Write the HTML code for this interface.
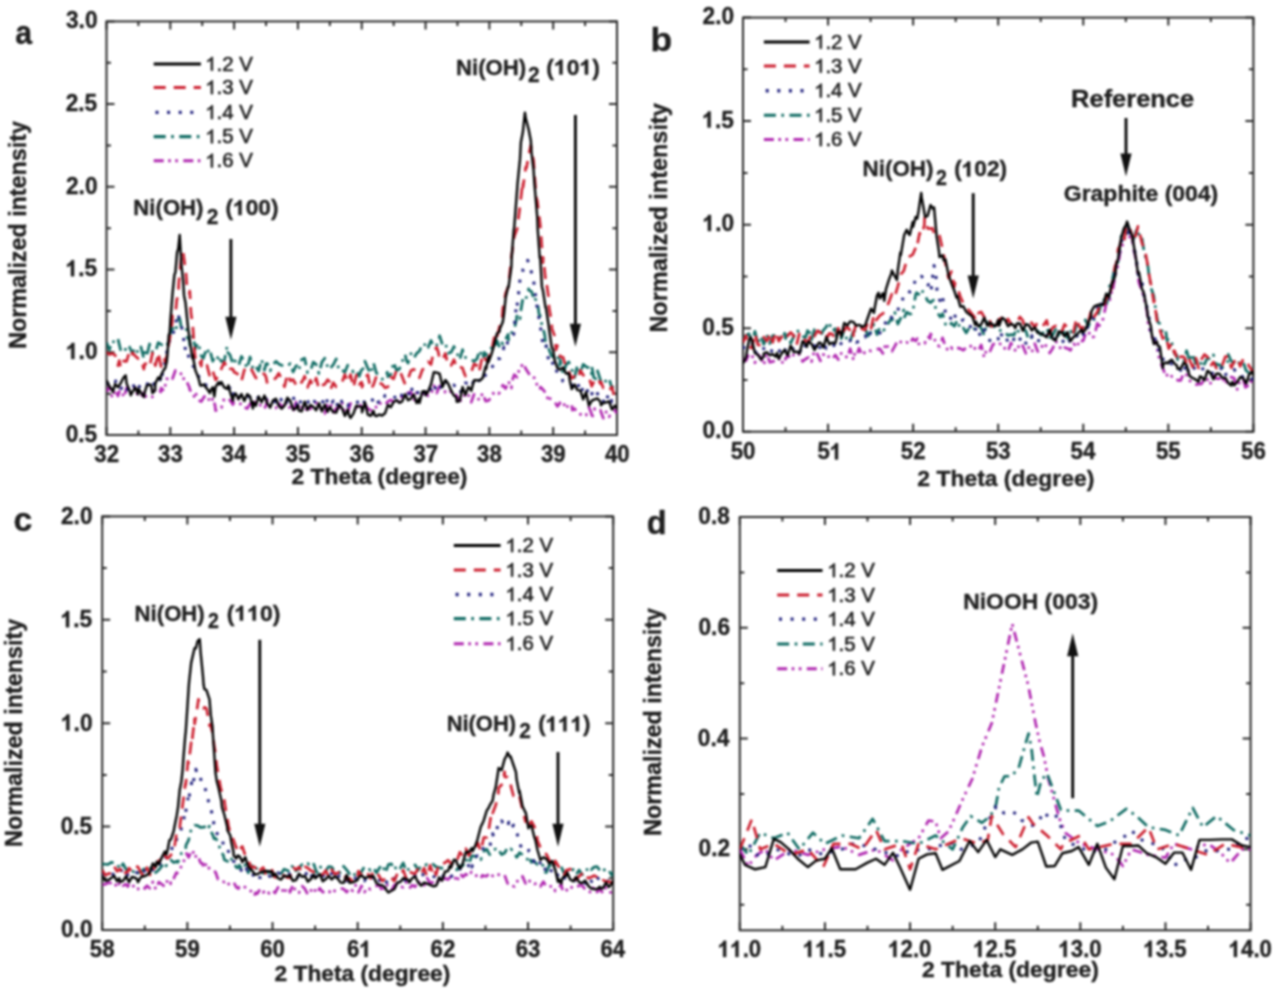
<!DOCTYPE html>
<html><head><meta charset="utf-8"><style>
html,body{margin:0;padding:0;background:#fff;overflow:hidden}
svg{display:block;font-family:"Liberation Sans",sans-serif;filter:blur(1px)}
text{font-kerning:none;font-variant-ligatures:none}
</style></head><body>
<svg width="1280" height="993" viewBox="0 0 1280 993" font-family="Liberation Sans, sans-serif">
<rect width="1280" height="993" fill="#fff"/>
<clipPath id="ca"><rect x="106.5" y="21.4" width="510.5" height="413.6"/></clipPath>
<path d="M106.50,435v-8M106.50,21.4v8M170.31,435v-8M170.31,21.4v8M234.12,435v-8M234.12,21.4v8M297.94,435v-8M297.94,21.4v8M361.75,435v-8M361.75,21.4v8M425.56,435v-8M425.56,21.4v8M489.38,435v-8M489.38,21.4v8M553.19,435v-8M553.19,21.4v8M617.00,435v-8M617.00,21.4v8M138.41,435v-4.5M138.41,21.4v4.5M202.22,435v-4.5M202.22,21.4v4.5M266.03,435v-4.5M266.03,21.4v4.5M329.84,435v-4.5M329.84,21.4v4.5M393.66,435v-4.5M393.66,21.4v4.5M457.47,435v-4.5M457.47,21.4v4.5M521.28,435v-4.5M521.28,21.4v4.5M585.09,435v-4.5M585.09,21.4v4.5M106.5,435.00h8M617,435.00h-8M106.5,352.28h8M617,352.28h-8M106.5,269.56h8M617,269.56h-8M106.5,186.84h8M617,186.84h-8M106.5,104.12h8M617,104.12h-8M106.5,21.40h8M617,21.40h-8M106.5,393.64h4.5M617,393.64h-4.5M106.5,310.92h4.5M617,310.92h-4.5M106.5,228.20h4.5M617,228.20h-4.5M106.5,145.48h4.5M617,145.48h-4.5M106.5,62.76h4.5M617,62.76h-4.5" stroke="#2a2a2a" stroke-width="2" fill="none"/>
<rect x="106.5" y="21.4" width="510.50" height="413.60" stroke="#2a2a2a" stroke-width="2" fill="none"/>
<path d="M106.50,391.99 L109.37,386.60 L112.24,397.64 L115.11,389.25 L117.99,395.95 L120.86,386.35 L123.73,397.58 L125.64,391.99 L126.60,387.76 L129.47,390.55 L132.34,389.01 L135.22,387.85 L138.09,397.15 L140.96,396.51 L143.83,392.72 L144.79,395.29 L146.70,397.44 L149.57,397.04 L152.44,396.85 L155.32,388.97 L158.19,388.18 L160.74,391.99 L161.06,388.10 L163.93,390.81 L166.80,378.74 L169.67,379.59 L171.59,377.10 L172.55,378.55 L175.42,370.48 L178.29,372.23 L181.16,373.89 L183.08,373.79 L184.03,381.14 L185.63,380.40 L186.90,382.03 L189.46,387.52 L189.78,389.76 L192.65,392.92 L194.56,397.45 L195.52,393.07 L198.39,398.17 L199.03,400.26 L201.26,401.65 L204.13,396.71 L207.00,395.56 L209.88,401.78 L211.79,401.91 L212.75,397.75 L214.98,405.22 L215.62,410.68 L218.49,408.78 L221.36,407.91 L224.23,398.55 L227.11,400.92 L229.98,400.09 L232.85,404.60 L234.12,401.91 L235.72,402.14 L238.59,397.89 L241.46,407.31 L244.33,407.42 L247.21,408.51 L250.08,403.93 L252.95,399.92 L255.82,403.53 L258.69,405.60 L261.56,404.73 L264.44,408.77 L266.03,405.22 L267.31,400.10 L270.18,407.13 L273.05,408.65 L275.92,407.92 L278.79,402.12 L281.67,408.14 L284.54,401.49 L287.41,408.23 L290.28,407.16 L293.15,411.56 L296.02,402.06 L297.94,406.88 L298.89,403.50 L301.77,407.37 L304.64,411.68 L307.51,407.46 L310.38,408.95 L313.25,403.73 L316.12,402.86 L319.00,405.17 L321.87,410.58 L324.74,413.58 L327.61,403.85 L329.84,408.53 L330.48,403.35 L333.35,412.30 L336.23,408.20 L339.10,408.27 L341.97,402.38 L344.84,413.04 L347.71,412.68 L350.58,403.47 L353.45,406.50 L356.33,407.59 L359.20,403.79 L361.75,406.88 L362.07,405.74 L364.94,404.15 L367.81,408.76 L370.68,410.29 L373.56,410.73 L376.43,406.52 L379.30,402.43 L382.17,405.09 L385.04,405.02 L387.91,401.43 L390.78,399.98 L393.66,401.91 L396.53,399.91 L399.40,402.31 L402.27,395.51 L405.14,394.86 L408.01,392.89 L410.89,392.01 L413.76,401.27 L416.63,392.81 L419.50,395.63 L422.37,394.27 L425.24,391.88 L425.56,391.99 L428.11,395.89 L430.99,394.42 L433.86,385.64 L436.73,392.98 L439.60,385.99 L442.47,388.39 L444.71,390.33 L445.34,392.70 L448.22,393.64 L451.09,391.32 L453.96,391.19 L456.83,396.37 L459.70,400.62 L462.57,400.30 L463.85,396.95 L465.45,392.96 L468.32,394.82 L471.19,402.35 L474.06,394.27 L476.93,397.61 L477.89,398.60 L479.80,400.05 L482.67,392.88 L485.55,401.04 L488.42,400.70 L491.29,397.16 L494.16,391.89 L497.03,393.40 L498.31,393.64 L499.90,392.44 L502.78,385.07 L505.65,388.53 L508.52,381.48 L511.39,388.07 L511.71,382.06 L514.26,374.65 L517.13,377.26 L520.00,366.81 L521.92,365.52 L522.88,362.84 L525.75,368.67 L528.62,373.29 L530.85,377.10 L531.49,377.18 L534.36,377.82 L537.23,385.23 L540.11,389.78 L540.42,387.02 L542.98,389.45 L545.85,393.35 L548.72,401.50 L550.00,398.60 L551.59,399.08 L554.46,401.30 L557.34,406.39 L559.57,403.57 L560.21,401.49 L563.08,402.16 L565.95,408.74 L568.82,404.13 L571.69,404.21 L572.33,410.18 L574.56,408.69 L577.44,412.13 L580.31,414.20 L583.18,416.34 L586.05,415.18 L588.92,407.27 L591.48,413.49 L591.79,418.58 L594.67,408.67 L597.54,411.21 L600.41,410.20 L603.28,418.13 L606.15,411.80 L609.02,416.91 L611.90,411.44 L614.77,410.09 L617.00,413.49" stroke="#b028b0" stroke-width="2.7" fill="none" stroke-linejoin="round" stroke-dasharray="10 4.5 2.6 4.5 2.6 5.4" clip-path="url(#ca)"/>
<path d="M106.50,342.35 L109.37,349.85 L112.24,340.99 L115.11,342.82 L117.99,339.04 L120.86,351.10 L123.73,352.35 L125.64,348.97 L126.60,345.26 L129.47,347.01 L132.34,353.39 L135.22,347.58 L138.09,352.83 L140.96,347.03 L143.83,358.43 L144.79,352.28 L146.70,356.20 L149.57,343.98 L152.44,351.98 L155.32,352.60 L158.19,342.61 L161.06,344.48 L163.93,345.66 L166.80,346.49 L169.67,334.89 L172.55,328.06 L173.50,329.12 L175.42,331.68 L178.29,319.16 L179.88,319.19 L181.16,327.08 L184.03,327.26 L186.27,327.46 L186.90,336.87 L189.46,340.04 L189.78,345.29 L192.65,335.77 L195.52,348.55 L195.84,347.32 L198.39,342.84 L201.26,356.07 L203.50,358.24 L204.13,355.71 L207.00,347.98 L208.60,352.28 L209.88,349.98 L212.75,361.29 L215.62,355.17 L218.17,358.24 L218.49,355.82 L221.36,361.52 L224.23,361.17 L227.11,346.48 L227.74,352.28 L229.98,354.95 L232.85,363.96 L234.12,360.55 L235.72,361.50 L238.59,365.68 L241.46,356.38 L244.33,361.60 L247.21,368.49 L250.08,356.94 L252.95,369.29 L255.82,366.43 L258.69,370.91 L261.56,359.42 L264.44,370.08 L266.03,363.86 L267.31,363.50 L270.18,370.81 L273.05,364.55 L275.92,361.31 L278.79,363.95 L281.67,365.41 L284.54,365.07 L287.41,366.01 L290.28,363.54 L293.15,371.97 L296.02,365.84 L297.94,365.52 L298.89,369.88 L301.77,359.47 L304.64,358.25 L307.51,372.69 L310.38,371.42 L313.25,362.15 L316.12,364.33 L319.00,373.47 L321.87,362.13 L324.74,358.17 L327.61,366.79 L329.84,365.52 L330.48,368.10 L333.35,364.73 L336.23,358.91 L339.10,370.39 L341.97,370.04 L344.84,372.22 L347.71,365.24 L350.58,368.17 L353.45,372.00 L356.33,370.12 L359.20,376.26 L361.75,368.82 L362.07,371.97 L364.94,361.25 L367.81,368.19 L370.68,373.58 L373.56,363.14 L376.43,373.07 L379.30,375.21 L382.17,379.16 L385.04,377.70 L387.27,372.13 L387.91,376.73 L390.78,374.48 L393.66,362.10 L396.53,370.43 L399.40,368.96 L402.27,361.34 L405.14,354.42 L406.42,360.55 L408.01,363.04 L410.89,353.52 L413.76,358.28 L416.63,353.36 L419.50,351.05 L422.37,343.58 L425.24,344.91 L425.56,348.97 L428.11,347.51 L430.99,340.51 L433.86,346.88 L436.73,345.10 L438.33,342.35 L439.60,335.74 L442.47,344.82 L445.34,343.29 L448.22,353.12 L451.09,352.28 L453.96,346.53 L456.83,352.65 L459.70,359.81 L462.57,349.57 L463.85,357.24 L465.45,357.37 L468.32,358.81 L471.19,359.38 L474.06,361.33 L476.93,359.02 L479.80,350.19 L482.67,358.61 L484.27,352.28 L485.55,355.60 L488.42,350.96 L491.29,347.84 L494.16,349.04 L497.03,340.83 L499.90,348.05 L502.14,342.85 L502.78,344.13 L505.65,339.15 L508.14,334.41 L508.52,339.86 L511.39,333.08 L514.26,329.11 L516.50,319.19 L517.13,314.32 L520.00,318.74 L520.64,311.75 L522.88,298.27 L523.58,297.68 L525.75,299.53 L528.62,288.87 L529.19,290.57 L531.49,291.46 L534.36,300.82 L534.87,299.17 L537.23,300.51 L539.15,314.56 L540.11,315.54 L541.89,324.82 L542.98,327.82 L544.89,335.74 L545.85,347.38 L546.81,344.01 L548.72,348.78 L551.59,355.94 L554.46,357.41 L557.34,354.58 L559.57,365.52 L560.21,359.74 L563.08,374.13 L565.95,365.02 L568.82,361.93 L571.69,369.53 L572.33,370.48 L574.56,377.54 L577.44,365.29 L580.31,373.08 L583.18,364.40 L586.05,366.65 L588.92,367.91 L591.48,373.79 L591.79,366.76 L594.67,381.97 L597.54,370.89 L600.41,379.91 L603.28,383.65 L606.15,380.54 L609.02,378.00 L611.90,388.60 L614.77,382.17 L617.00,382.06" stroke="#126c64" stroke-width="2.7" fill="none" stroke-linejoin="round" stroke-dasharray="12 5.5 2.6 5.5" clip-path="url(#ca)"/>
<path d="M106.50,382.06 L109.37,385.35 L112.24,380.91 L115.11,381.42 L117.99,380.00 L120.86,388.18 L123.73,388.16 L125.64,385.37 L126.60,389.45 L129.47,388.55 L132.34,382.66 L135.22,389.65 L138.09,385.01 L140.96,388.68 L143.83,387.75 L144.79,385.37 L146.70,385.37 L149.57,379.47 L152.44,380.94 L155.32,386.62 L158.19,382.41 L160.74,378.75 L161.06,381.81 L163.93,364.11 L165.85,362.21 L166.80,352.00 L167.76,348.97 L169.67,339.91 L172.55,331.40 L173.50,332.43 L175.42,324.03 L178.29,313.32 L178.80,317.04 L181.16,321.84 L181.80,327.46 L184.03,341.28 L184.35,340.04 L185.63,352.28 L186.90,350.63 L189.78,360.25 L192.65,365.52 L195.52,368.15 L198.39,375.94 L200.30,380.40 L201.26,381.79 L204.13,384.27 L207.00,385.23 L208.60,385.37 L209.88,387.86 L212.75,390.87 L215.62,383.49 L218.49,384.48 L221.36,383.05 L224.23,387.21 L227.11,389.54 L229.98,388.03 L232.85,395.88 L234.12,391.99 L235.72,390.27 L238.59,393.57 L241.46,397.25 L244.33,397.55 L247.21,394.44 L250.08,398.15 L252.95,396.36 L255.82,395.26 L258.69,398.29 L261.56,401.95 L264.44,398.38 L266.03,398.60 L267.31,401.80 L270.18,402.09 L273.05,402.87 L275.92,401.18 L278.79,404.87 L281.67,398.47 L284.54,395.27 L287.41,402.10 L290.28,398.58 L293.15,396.40 L296.02,407.00 L297.94,401.91 L298.89,406.11 L301.77,398.57 L304.64,398.34 L307.51,400.80 L310.38,406.50 L313.25,403.71 L316.12,398.59 L319.00,398.53 L321.87,399.64 L324.74,406.74 L327.61,399.35 L329.84,403.57 L330.48,404.98 L333.35,400.88 L336.23,407.44 L339.10,397.63 L341.97,401.74 L344.84,400.21 L347.71,405.98 L350.58,401.13 L353.45,401.41 L356.33,401.14 L359.20,403.67 L361.75,401.91 L362.07,399.21 L364.94,403.09 L367.81,403.02 L370.68,403.94 L373.56,397.33 L376.43,403.36 L379.30,401.45 L382.17,402.67 L385.04,395.42 L387.91,395.84 L390.78,395.39 L393.66,395.29 L396.53,400.04 L399.40,394.80 L402.27,395.33 L405.14,397.63 L408.01,398.07 L410.89,385.95 L413.76,395.51 L416.63,392.83 L419.50,392.61 L422.37,388.21 L425.24,393.64 L425.56,388.68 L428.11,388.58 L430.99,389.28 L433.86,383.37 L436.73,392.47 L439.60,388.16 L442.47,385.79 L444.71,385.37 L445.34,380.04 L448.22,385.78 L451.09,386.77 L453.96,385.00 L456.83,389.82 L459.70,393.38 L462.57,388.44 L463.85,388.68 L465.45,382.96 L468.32,383.21 L471.19,387.04 L474.06,380.37 L476.93,376.72 L479.80,381.82 L482.67,376.27 L482.99,377.10 L485.55,375.13 L488.42,372.32 L491.29,367.73 L494.16,364.60 L495.76,358.90 L497.03,358.84 L499.90,358.46 L502.78,350.28 L504.05,347.32 L505.65,349.95 L508.52,338.31 L511.39,336.27 L513.62,334.41 L514.26,331.72 L514.90,317.54 L517.13,301.85 L517.26,304.30 L518.73,292.06 L520.00,279.49 L522.88,273.36 L522.94,269.56 L525.75,264.27 L527.66,260.30 L528.62,262.68 L531.49,272.37 L534.04,283.62 L534.36,288.11 L535.64,296.36 L537.23,308.48 L540.11,324.23 L542.98,345.12 L543.30,342.85 L545.85,344.95 L547.44,353.11 L548.72,361.32 L550.00,360.55 L551.59,359.10 L554.46,370.25 L555.74,368.82 L557.34,372.69 L560.21,374.57 L563.08,381.55 L565.95,383.31 L568.82,383.48 L571.69,385.40 L572.33,385.37 L574.56,381.65 L577.44,381.17 L580.31,392.95 L583.18,388.09 L583.82,388.68 L586.05,393.87 L588.92,387.23 L591.79,393.96 L594.67,388.52 L597.54,393.71 L600.41,399.73 L603.28,402.29 L604.24,396.95 L606.15,400.11 L609.02,393.31 L611.90,402.00 L614.77,398.56 L617.00,398.60" stroke="#22227e" stroke-width="3.0" fill="none" stroke-linejoin="round" stroke-dasharray="3 8.6" clip-path="url(#ca)"/>
<path d="M106.50,352.28 L109.37,354.56 L112.24,353.40 L115.11,355.11 L117.99,365.64 L119.26,360.55 L120.86,368.02 L123.73,360.89 L126.60,361.44 L129.47,351.45 L132.02,355.59 L132.34,352.64 L135.22,355.98 L138.09,358.56 L140.96,358.71 L143.83,369.11 L144.79,363.86 L146.70,363.86 L149.57,366.97 L152.44,353.17 L155.32,365.70 L157.55,357.24 L158.19,352.38 L161.06,366.56 L163.93,358.29 L165.21,362.21 L166.80,356.37 L169.23,340.70 L169.67,339.57 L172.23,322.50 L172.55,315.25 L175.42,314.63 L176.69,300.33 L178.29,294.19 L178.80,282.63 L181.16,258.59 L183.08,251.53 L184.03,258.66 L186.01,273.86 L186.90,285.97 L189.33,293.71 L189.78,291.00 L190.99,313.57 L192.65,324.15 L194.56,352.28 L195.52,359.80 L198.39,357.97 L201.26,366.06 L201.58,360.39 L204.13,366.80 L207.00,365.41 L209.88,376.71 L212.43,374.45 L212.75,370.99 L215.62,379.86 L218.49,376.07 L221.36,368.82 L224.23,362.25 L227.11,367.76 L228.38,365.52 L229.98,368.70 L232.85,369.07 L234.12,372.13 L235.72,372.77 L238.59,374.74 L241.46,381.04 L244.33,369.98 L247.21,366.43 L250.08,366.73 L252.95,372.35 L255.82,377.88 L258.69,378.22 L261.56,373.26 L264.44,373.97 L266.03,377.10 L267.31,383.62 L270.18,381.91 L273.05,380.09 L275.92,377.93 L278.79,373.29 L281.67,378.72 L284.54,386.82 L287.41,373.98 L290.28,380.77 L293.15,379.59 L296.02,384.80 L297.94,380.40 L298.89,381.66 L301.77,382.45 L304.64,376.25 L307.51,387.48 L310.38,380.22 L313.25,386.53 L316.12,378.11 L319.00,389.16 L321.87,385.34 L324.74,384.37 L327.61,379.68 L329.84,382.06 L330.48,389.47 L333.35,382.73 L336.23,386.88 L339.10,385.67 L341.97,382.45 L344.84,374.47 L347.71,382.37 L350.58,374.52 L353.45,387.56 L356.33,375.04 L359.20,384.31 L361.75,382.06 L362.07,387.17 L364.94,377.62 L367.81,374.61 L370.68,389.29 L373.56,384.67 L376.43,376.06 L379.30,382.86 L382.17,384.22 L385.04,387.77 L387.91,386.96 L390.78,377.08 L393.66,378.75 L396.53,370.19 L399.40,369.39 L402.27,377.02 L405.14,384.39 L408.01,378.90 L410.89,370.65 L413.76,369.35 L416.63,371.98 L419.18,373.79 L419.50,377.90 L422.37,369.75 L425.24,367.35 L428.11,361.65 L430.99,364.45 L433.86,349.91 L436.73,347.55 L438.33,352.28 L439.60,359.19 L442.47,360.03 L445.34,353.39 L448.22,366.21 L451.09,365.52 L453.96,359.66 L456.83,368.24 L459.70,366.74 L462.57,368.08 L463.85,372.13 L465.45,376.04 L468.32,373.37 L471.19,372.38 L474.06,363.81 L476.61,365.52 L476.93,362.06 L479.80,369.13 L482.67,354.41 L485.55,359.88 L488.42,360.61 L489.38,355.59 L491.29,352.69 L494.16,337.73 L495.76,342.35 L497.03,336.73 L499.90,325.23 L502.14,319.19 L502.78,308.94 L505.65,293.35 L508.52,286.10 L511.39,256.98 L514.26,236.47 L516.81,229.85 L517.13,228.85 L519.49,210.00 L520.00,205.24 L522.88,181.53 L523.00,187.34 L525.75,167.16 L526.51,167.65 L528.62,155.40 L530.85,145.15 L531.49,151.29 L533.60,160.70 L534.36,173.16 L536.40,198.42 L537.23,200.39 L540.11,223.57 L540.42,226.88 L542.98,262.66 L543.30,258.14 L545.53,279.49 L545.85,278.57 L548.72,298.37 L549.04,307.61 L551.59,321.51 L551.91,328.79 L554.46,335.45 L556.00,349.96 L557.34,345.49 L560.21,356.67 L563.08,357.42 L565.95,367.17 L568.82,371.40 L571.69,378.28 L574.56,376.30 L577.44,379.21 L578.71,377.10 L580.31,370.27 L583.18,374.96 L586.05,378.04 L588.92,377.34 L591.79,386.21 L594.67,380.07 L597.54,377.96 L600.41,383.67 L601.05,382.06 L603.28,387.89 L606.15,387.31 L609.02,390.77 L611.90,386.87 L614.77,397.94 L617.00,393.64" stroke="#cc2030" stroke-width="2.7" fill="none" stroke-linejoin="round" stroke-dasharray="12 8" clip-path="url(#ca)"/>
<path d="M106.50,380.40 L109.37,386.25 L112.24,390.04 L112.88,391.99 L115.11,384.05 L117.99,387.15 L119.26,385.37 L120.86,382.78 L123.73,377.26 L125.64,375.44 L126.60,383.34 L129.47,390.17 L130.75,395.29 L132.34,392.20 L135.22,387.56 L138.09,394.32 L138.41,388.68 L140.96,392.60 L143.83,396.91 L144.79,391.99 L146.70,385.90 L149.57,384.46 L151.17,385.37 L152.44,393.14 L155.00,390.50 L155.32,383.42 L158.19,377.42 L160.10,379.41 L161.06,375.30 L163.93,369.57 L165.21,368.33 L166.80,361.49 L167.76,350.13 L168.78,334.74 L169.67,333.10 L170.50,319.19 L172.23,297.02 L172.55,293.39 L174.40,274.85 L175.42,272.24 L177.08,252.69 L178.29,248.58 L179.69,234.98 L181.03,258.14 L181.16,262.96 L183.08,280.48 L184.03,295.45 L185.50,302.65 L186.90,316.96 L187.73,324.65 L188.31,329.95 L189.78,340.90 L192.39,358.24 L192.65,354.75 L195.39,370.48 L195.52,370.61 L198.39,377.71 L200.30,385.37 L201.26,385.68 L204.13,384.46 L205.41,387.02 L207.00,388.67 L209.88,393.00 L210.51,390.50 L212.75,387.38 L214.34,396.45 L215.62,386.91 L218.49,382.27 L219.45,384.54 L221.36,381.97 L224.23,387.43 L227.11,388.83 L228.38,385.37 L229.98,391.62 L232.85,400.76 L233.49,396.45 L235.72,393.54 L238.59,399.18 L241.46,394.07 L244.33,400.95 L247.21,394.18 L250.08,396.43 L252.95,408.43 L253.27,401.91 L255.82,405.75 L258.69,396.48 L261.56,402.31 L264.44,395.55 L267.31,403.27 L270.18,407.56 L272.41,401.91 L273.05,400.28 L275.92,398.68 L278.79,405.79 L281.67,408.58 L284.54,405.70 L287.41,397.71 L290.28,400.81 L293.15,409.66 L296.02,408.33 L297.94,405.22 L298.89,410.55 L301.77,411.24 L304.64,401.64 L307.51,409.98 L310.38,405.08 L313.25,406.71 L316.12,410.26 L319.00,403.24 L321.87,411.35 L324.74,404.71 L327.61,411.83 L329.84,406.88 L330.48,408.20 L333.35,412.19 L336.23,412.68 L339.10,404.64 L341.97,408.10 L344.84,415.95 L347.71,409.50 L348.99,415.15 L350.58,417.94 L353.45,413.65 L356.33,405.70 L359.20,406.65 L361.75,406.88 L362.07,412.37 L364.94,402.47 L367.81,414.60 L370.68,415.86 L373.56,410.92 L374.51,415.15 L376.43,416.09 L379.30,414.53 L382.17,415.50 L385.04,413.29 L387.91,404.79 L390.78,407.30 L393.66,401.91 L396.53,400.20 L399.40,402.87 L402.27,401.41 L405.14,394.35 L408.01,400.27 L410.89,398.69 L413.76,394.46 L416.63,403.13 L419.18,398.60 L419.50,403.02 L422.37,391.54 L425.24,391.25 L425.56,395.29 L428.11,391.48 L430.99,384.26 L433.86,372.13 L436.73,372.69 L439.60,373.75 L441.52,382.06 L442.47,387.05 L445.34,379.99 L448.22,383.80 L451.09,390.40 L453.96,395.72 L456.19,396.95 L456.83,401.82 L459.70,400.99 L462.57,387.07 L465.45,394.96 L468.32,387.10 L470.23,388.68 L471.19,390.86 L474.06,380.26 L476.93,380.16 L477.89,380.40 L479.80,380.47 L482.67,378.02 L485.55,366.80 L486.18,368.82 L488.29,356.91 L488.42,362.37 L491.29,354.63 L494.03,345.66 L494.16,344.55 L497.03,333.40 L499.58,331.60 L499.90,328.83 L502.78,321.98 L503.92,314.56 L505.65,297.53 L508.14,286.43 L508.52,287.27 L511.39,266.60 L511.65,258.14 L513.75,230.02 L514.26,226.82 L517.13,189.32 L517.45,184.69 L520.00,159.13 L520.90,142.34 L522.88,132.05 L524.92,112.72 L525.75,118.39 L528.62,129.31 L530.85,140.85 L531.49,152.61 L533.60,170.46 L534.36,182.57 L535.70,198.75 L537.23,217.03 L537.74,230.02 L539.79,258.14 L540.11,256.07 L541.89,286.43 L542.98,290.67 L545.53,307.61 L545.85,307.01 L548.72,325.74 L549.04,328.79 L551.59,346.58 L553.19,349.96 L554.46,359.70 L557.34,367.98 L560.21,369.65 L563.08,367.45 L565.95,373.44 L568.82,373.20 L569.78,380.40 L571.69,389.11 L574.56,384.52 L577.44,390.12 L580.31,390.38 L583.18,399.38 L583.82,397.78 L586.05,392.13 L588.92,405.60 L591.79,400.61 L594.67,399.33 L597.54,398.41 L600.41,401.81 L601.05,405.22 L603.28,402.99 L606.15,402.40 L609.02,401.38 L611.90,409.43 L614.77,405.62 L617.00,408.53" stroke="#000000" stroke-width="2.4" fill="none" stroke-linejoin="round" clip-path="url(#ca)"/>
<g transform="translate(94.33,462.10) scale(0.9500,1)" fill="#1f1f1f" stroke="#1f1f1f" stroke-width="0.35"><text x="0.000" y="0" font-size="23.4" font-weight="bold">32</text></g>
<g transform="translate(158.10,462.10) scale(0.9500,1)" fill="#1f1f1f" stroke="#1f1f1f" stroke-width="0.35"><text x="0.000" y="0" font-size="23.4" font-weight="bold">33</text></g>
<g transform="translate(221.57,462.10) scale(0.9500,1)" fill="#1f1f1f" stroke="#1f1f1f" stroke-width="0.35"><text x="0.000" y="0" font-size="23.4" font-weight="bold">34</text></g>
<g transform="translate(285.63,462.10) scale(0.9500,1)" fill="#1f1f1f" stroke="#1f1f1f" stroke-width="0.35"><text x="0.000" y="0" font-size="23.4" font-weight="bold">35</text></g>
<g transform="translate(349.53,462.10) scale(0.9500,1)" fill="#1f1f1f" stroke="#1f1f1f" stroke-width="0.35"><text x="0.000" y="0" font-size="23.4" font-weight="bold">36</text></g>
<g transform="translate(413.43,462.10) scale(0.9500,1)" fill="#1f1f1f" stroke="#1f1f1f" stroke-width="0.35"><text x="0.000" y="0" font-size="23.4" font-weight="bold">37</text></g>
<g transform="translate(477.10,462.10) scale(0.9500,1)" fill="#1f1f1f" stroke="#1f1f1f" stroke-width="0.35"><text x="0.000" y="0" font-size="23.4" font-weight="bold">38</text></g>
<g transform="translate(540.98,462.10) scale(0.9500,1)" fill="#1f1f1f" stroke="#1f1f1f" stroke-width="0.35"><text x="0.000" y="0" font-size="23.4" font-weight="bold">39</text></g>
<g transform="translate(604.92,462.10) scale(0.9500,1)" fill="#1f1f1f" stroke="#1f1f1f" stroke-width="0.35"><text x="0.000" y="0" font-size="23.4" font-weight="bold">40</text></g>
<g transform="translate(65.68,441.70) scale(0.9700,1)" fill="#1f1f1f" stroke="#1f1f1f" stroke-width="0.35"><text x="0.000" y="0" font-size="23.4" font-weight="bold">0.5</text></g>
<g transform="translate(65.98,358.98) scale(0.9700,1)" fill="#1f1f1f" stroke="#1f1f1f" stroke-width="0.35"><path transform="translate(0.000,0) scale(0.01143,-0.01143)" stroke-width="30.6" d="M759 0H478V1010Q330 870 130 805V1050Q240 1088 360 1180Q470 1270 520 1409H759Z"/><text x="13.014" y="0" font-size="23.4" font-weight="bold">.0</text></g>
<g transform="translate(65.68,276.26) scale(0.9700,1)" fill="#1f1f1f" stroke="#1f1f1f" stroke-width="0.35"><path transform="translate(0.000,0) scale(0.01143,-0.01143)" stroke-width="30.6" d="M759 0H478V1010Q330 870 130 805V1050Q240 1088 360 1180Q470 1270 520 1409H759Z"/><text x="13.014" y="0" font-size="23.4" font-weight="bold">.5</text></g>
<g transform="translate(65.98,193.54) scale(0.9700,1)" fill="#1f1f1f" stroke="#1f1f1f" stroke-width="0.35"><text x="0.000" y="0" font-size="23.4" font-weight="bold">2.0</text></g>
<g transform="translate(65.68,110.82) scale(0.9700,1)" fill="#1f1f1f" stroke="#1f1f1f" stroke-width="0.35"><text x="0.000" y="0" font-size="23.4" font-weight="bold">2.5</text></g>
<g transform="translate(65.98,28.10) scale(0.9700,1)" fill="#1f1f1f" stroke="#1f1f1f" stroke-width="0.35"><text x="0.000" y="0" font-size="23.4" font-weight="bold">3.0</text></g>
<g transform="translate(291.61,483.70) scale(1.0353,1)" fill="#1f1f1f" stroke="#1f1f1f" stroke-width="0.35"><text x="0.000" y="0" font-size="22" font-weight="bold">2 Theta (degree)</text></g>
<g transform="translate(25.60,348.86) rotate(-90) scale(1.0131,1)" fill="#1f1f1f" stroke="#1f1f1f" stroke-width="0.35"><text x="0.000" y="0" font-size="23" font-weight="bold">Normalized intensity</text></g>
<g transform="translate(15.22,44.20) scale(0.8881,1)" fill="#1f1f1f" stroke="#1f1f1f" stroke-width="0.35"><text x="0.000" y="0" font-size="34" font-weight="bold">a</text></g>
<path d="M153.7,64H200.9" stroke="#000000" stroke-width="2.8" fill="none"/>
<g transform="translate(205.19,70.60) scale(1.03,1)" fill="#1f1f1f" stroke="#1f1f1f" stroke-width="0.6"><path transform="translate(0.000,0) scale(0.00967,-0.00967)" stroke-width="62.1" d="M763 0H583V1098Q518 1038 412 979Q306 920 222 890V1057Q373 1125 486 1221Q599 1318 646 1409H763Z"/><text x="11.012" y="0" font-size="19.8" font-weight="normal">.2 V</text></g>
<path d="M153.7,87.5H200.9" stroke="#cc2030" stroke-width="3.1" fill="none" stroke-dasharray="12 8"/>
<g transform="translate(205.19,94.10) scale(1.03,1)" fill="#1f1f1f" stroke="#1f1f1f" stroke-width="0.6"><path transform="translate(0.000,0) scale(0.00967,-0.00967)" stroke-width="62.1" d="M763 0H583V1098Q518 1038 412 979Q306 920 222 890V1057Q373 1125 486 1221Q599 1318 646 1409H763Z"/><text x="11.012" y="0" font-size="19.8" font-weight="normal">.3 V</text></g>
<path d="M153.7,112.4H200.9" stroke="#22227e" stroke-width="3.4" fill="none" stroke-dasharray="3 8.6" stroke-dashoffset="9.8"/>
<g transform="translate(205.19,119.00) scale(1.03,1)" fill="#1f1f1f" stroke="#1f1f1f" stroke-width="0.6"><path transform="translate(0.000,0) scale(0.00967,-0.00967)" stroke-width="62.1" d="M763 0H583V1098Q518 1038 412 979Q306 920 222 890V1057Q373 1125 486 1221Q599 1318 646 1409H763Z"/><text x="11.012" y="0" font-size="19.8" font-weight="normal">.4 V</text></g>
<path d="M153.7,136.6H200.9" stroke="#126c64" stroke-width="3.1" fill="none" stroke-dasharray="12 5.5 2.6 5.5"/>
<g transform="translate(205.19,143.20) scale(1.03,1)" fill="#1f1f1f" stroke="#1f1f1f" stroke-width="0.6"><path transform="translate(0.000,0) scale(0.00967,-0.00967)" stroke-width="62.1" d="M763 0H583V1098Q518 1038 412 979Q306 920 222 890V1057Q373 1125 486 1221Q599 1318 646 1409H763Z"/><text x="11.012" y="0" font-size="19.8" font-weight="normal">.5 V</text></g>
<path d="M153.7,160.8H200.9" stroke="#b028b0" stroke-width="3.1" fill="none" stroke-dasharray="10 4.5 2.6 4.5 2.6 5.4"/>
<g transform="translate(205.19,167.40) scale(1.03,1)" fill="#1f1f1f" stroke="#1f1f1f" stroke-width="0.6"><path transform="translate(0.000,0) scale(0.00967,-0.00967)" stroke-width="62.1" d="M763 0H583V1098Q518 1038 412 979Q306 920 222 890V1057Q373 1125 486 1221Q599 1318 646 1409H763Z"/><text x="11.012" y="0" font-size="19.8" font-weight="normal">.6 V</text></g>
<path d="M230.9,239V318.7" stroke="#000" stroke-width="2.8"/>
<path d="M225.3,316.7L236.5,316.7L230.9,339.7Z" fill="#111"/>
<path d="M575.4,115V325.8" stroke="#000" stroke-width="2.8"/>
<path d="M569.8,323.8L581.0,323.8L575.4,346.8Z" fill="#111"/>
<g transform="translate(133.37,215.10) scale(1.0303,1)" fill="#1f1f1f" stroke="#1f1f1f" stroke-width="0.35"><text x="0.000" y="0" font-size="21.5" font-weight="bold">Ni(OH)</text></g>
<g transform="translate(206.63,223.50) scale(0.9709,1)" fill="#1f1f1f" stroke="#1f1f1f" stroke-width="0.35"><text x="0.000" y="0" font-size="21.5" font-weight="bold">2</text></g>
<g transform="translate(225.57,215.10) scale(1.0552,1)" fill="#1f1f1f" stroke="#1f1f1f" stroke-width="0.35"><text x="0.000" y="0" font-size="21.5" font-weight="bold">(</text><path transform="translate(7.160,0) scale(0.01050,-0.01050)" stroke-width="33.3" d="M759 0H478V1010Q330 870 130 805V1050Q240 1088 360 1180Q470 1270 520 1409H759Z"/><text x="19.117" y="0" font-size="21.5" font-weight="bold">00)</text></g>
<g transform="translate(456.02,74.50) scale(1.0296,1)" fill="#1f1f1f" stroke="#1f1f1f" stroke-width="0.35"><text x="0.000" y="0" font-size="21.5" font-weight="bold">Ni(OH)</text></g>
<g transform="translate(527.97,82.25) scale(0.9757,1)" fill="#1f1f1f" stroke="#1f1f1f" stroke-width="0.35"><text x="0.000" y="0" font-size="21.5" font-weight="bold">2</text></g>
<g transform="translate(546.36,74.50) scale(1.0676,1)" fill="#1f1f1f" stroke="#1f1f1f" stroke-width="0.35"><text x="0.000" y="0" font-size="21.5" font-weight="bold">(</text><path transform="translate(7.160,0) scale(0.01050,-0.01050)" stroke-width="33.3" d="M759 0H478V1010Q330 870 130 805V1050Q240 1088 360 1180Q470 1270 520 1409H759Z"/><text x="19.117" y="0" font-size="21.5" font-weight="bold">0</text><path transform="translate(31.074,0) scale(0.01050,-0.01050)" stroke-width="33.3" d="M759 0H478V1010Q330 870 130 805V1050Q240 1088 360 1180Q470 1270 520 1409H759Z"/><text x="43.031" y="0" font-size="21.5" font-weight="bold">)</text></g>
<clipPath id="cb"><rect x="743" y="17.6" width="510.4000000000001" height="414.09999999999997"/></clipPath>
<path d="M743.00,431.7v-8M743.00,17.6v8M828.07,431.7v-8M828.07,17.6v8M913.13,431.7v-8M913.13,17.6v8M998.20,431.7v-8M998.20,17.6v8M1083.27,431.7v-8M1083.27,17.6v8M1168.33,431.7v-8M1168.33,17.6v8M1253.40,431.7v-8M1253.40,17.6v8M785.53,431.7v-4.5M785.53,17.6v4.5M870.60,431.7v-4.5M870.60,17.6v4.5M955.67,431.7v-4.5M955.67,17.6v4.5M1040.73,431.7v-4.5M1040.73,17.6v4.5M1125.80,431.7v-4.5M1125.80,17.6v4.5M1210.87,431.7v-4.5M1210.87,17.6v4.5M743,431.70h8M1253.4,431.70h-8M743,328.18h8M1253.4,328.18h-8M743,224.65h8M1253.4,224.65h-8M743,121.12h8M1253.4,121.12h-8M743,17.60h8M1253.4,17.60h-8M743,379.94h4.5M1253.4,379.94h-4.5M743,276.41h4.5M1253.4,276.41h-4.5M743,172.89h4.5M1253.4,172.89h-4.5M743,69.36h4.5M1253.4,69.36h-4.5" stroke="#2a2a2a" stroke-width="2" fill="none"/>
<rect x="743" y="17.6" width="510.40" height="414.10" stroke="#2a2a2a" stroke-width="2" fill="none"/>
<path d="M743.00,359.23 L745.98,360.76 L748.95,353.93 L751.93,354.97 L754.91,362.78 L757.89,354.61 L760.86,357.54 L763.84,364.92 L766.82,353.61 L769.80,362.27 L772.77,361.64 L775.75,360.18 L778.73,358.13 L781.71,363.90 L784.68,356.91 L785.53,359.23 L787.66,354.90 L790.64,358.58 L793.61,354.79 L796.59,356.60 L799.57,353.83 L802.55,361.54 L805.52,359.04 L808.50,357.38 L811.48,361.63 L814.46,350.54 L817.43,354.44 L820.41,360.83 L823.39,354.52 L826.37,356.32 L828.07,355.09 L829.34,358.85 L832.32,358.96 L835.30,354.99 L838.27,359.60 L841.25,353.24 L844.23,353.59 L847.21,358.17 L850.18,348.64 L853.16,358.76 L853.59,353.02 L856.14,356.68 L859.12,348.18 L862.09,355.11 L865.07,352.10 L868.05,349.93 L871.03,350.99 L874.00,349.78 L876.98,349.17 L879.11,348.88 L879.96,348.89 L882.93,353.44 L885.91,343.29 L888.89,349.20 L891.87,351.39 L894.84,346.19 L897.82,340.42 L900.80,342.00 L903.78,343.41 L904.63,342.67 L906.75,342.25 L909.73,344.50 L912.71,338.58 L915.69,340.94 L917.39,338.53 L918.66,343.94 L921.64,343.12 L924.62,343.59 L927.59,336.24 L930.15,338.53 L930.57,333.94 L933.55,336.63 L936.53,344.40 L939.50,346.42 L941.21,342.67 L942.48,337.79 L945.46,346.62 L948.44,350.86 L951.41,347.51 L952.26,348.88 L954.39,347.19 L957.37,347.86 L960.35,348.66 L963.32,350.20 L966.30,347.52 L969.28,347.68 L972.25,344.60 L972.68,346.81 L975.23,348.69 L978.21,351.30 L981.19,344.91 L984.16,357.24 L985.44,353.02 L987.14,348.74 L990.12,351.01 L993.10,344.26 L996.07,343.53 L998.20,344.74 L999.05,344.00 L1002.03,343.74 L1005.01,348.76 L1007.98,351.70 L1010.96,342.92 L1013.94,349.27 L1016.91,351.39 L1019.89,342.98 L1022.87,346.01 L1025.85,353.24 L1028.82,347.48 L1031.80,352.19 L1034.78,343.76 L1037.76,351.44 L1040.73,348.88 L1043.71,343.05 L1046.69,346.76 L1049.67,353.03 L1052.64,348.56 L1055.62,341.27 L1058.60,344.21 L1061.57,350.63 L1064.55,347.62 L1067.53,348.43 L1070.51,350.31 L1073.48,343.73 L1074.76,344.74 L1076.46,341.49 L1079.44,345.98 L1082.42,340.37 L1083.27,340.60 L1085.39,334.28 L1088.37,331.34 L1091.35,337.74 L1094.33,336.38 L1097.30,323.42 L1097.73,328.18 L1100.28,323.94 L1103.26,318.48 L1106.23,303.17 L1109.21,302.35 L1112.19,289.26 L1112.61,290.91 L1115.17,275.38 L1118.14,264.98 L1119.85,253.64 L1121.12,249.15 L1124.10,239.69 L1126.23,228.79 L1127.08,226.64 L1130.05,238.93 L1132.61,241.21 L1133.03,246.82 L1136.01,259.12 L1137.96,276.41 L1138.99,282.68 L1141.96,290.88 L1143.41,295.05 L1144.94,301.78 L1147.07,311.61 L1147.92,322.49 L1150.89,335.36 L1151.58,336.46 L1153.87,339.47 L1156.85,344.36 L1157.87,353.02 L1159.83,360.85 L1162.80,368.09 L1163.40,369.58 L1165.78,376.56 L1168.76,373.04 L1171.74,376.46 L1174.71,376.53 L1176.84,377.87 L1177.69,380.42 L1180.67,380.41 L1183.65,373.15 L1186.62,375.02 L1189.60,380.38 L1192.58,384.16 L1195.55,384.57 L1198.53,384.20 L1201.51,383.96 L1204.49,378.52 L1207.46,379.47 L1210.44,384.51 L1210.87,379.94 L1213.42,375.61 L1216.40,378.63 L1219.37,378.58 L1222.35,376.70 L1225.33,384.36 L1228.31,377.48 L1231.28,377.00 L1234.26,378.28 L1237.24,389.43 L1240.21,379.87 L1243.19,378.64 L1246.17,389.98 L1249.15,380.99 L1252.12,382.05 L1253.40,386.15" stroke="#b028b0" stroke-width="2.7" fill="none" stroke-linejoin="round" stroke-dasharray="10 4.5 2.6 4.5 2.6 5.4" clip-path="url(#cb)"/>
<path d="M743.00,338.53 L745.98,335.45 L748.95,333.60 L751.93,343.13 L754.91,331.31 L757.89,342.96 L760.86,336.05 L763.84,344.44 L766.82,334.79 L769.80,343.58 L772.77,335.53 L775.75,335.27 L778.73,334.67 L781.71,339.38 L784.68,333.23 L785.53,338.53 L787.66,331.07 L790.64,343.17 L793.61,336.81 L796.59,329.87 L799.57,332.50 L802.55,336.23 L805.52,337.71 L808.50,327.77 L811.48,339.80 L814.46,329.47 L817.43,327.73 L819.56,332.32 L820.41,336.24 L823.39,330.17 L826.37,326.86 L828.07,321.96 L829.34,323.53 L832.32,331.14 L835.30,328.58 L836.57,336.46 L838.27,330.10 L841.25,338.55 L844.23,329.80 L847.21,341.40 L850.18,340.64 L853.16,332.04 L856.14,329.74 L859.12,329.09 L862.09,326.22 L865.07,327.78 L868.05,336.01 L870.60,332.32 L871.03,328.56 L874.00,324.24 L876.98,334.60 L879.96,327.11 L882.93,330.35 L885.91,328.83 L888.89,322.27 L891.87,317.82 L892.21,320.10 L894.84,312.57 L897.82,324.04 L900.80,317.87 L903.78,310.00 L904.63,316.99 L906.75,312.12 L909.73,314.04 L911.43,313.68 L912.71,312.18 L915.69,294.36 L916.54,292.77 L918.66,294.29 L919.94,289.66 L921.64,290.06 L924.62,294.34 L927.59,300.84 L930.57,302.71 L931.85,301.26 L933.55,300.13 L936.53,311.31 L939.50,315.87 L940.35,316.99 L942.48,313.74 L944.61,320.10 L945.46,324.21 L948.44,326.89 L951.41,323.00 L953.11,325.07 L954.39,326.16 L957.37,320.12 L960.35,329.51 L963.32,328.06 L966.30,332.94 L969.28,327.57 L972.25,329.90 L975.23,328.26 L978.21,324.02 L981.19,328.18 L984.16,335.24 L987.14,321.81 L990.12,326.20 L993.10,325.11 L996.07,329.42 L999.05,329.24 L1002.03,332.02 L1005.01,332.58 L1007.98,335.48 L1010.96,334.65 L1013.94,335.15 L1015.21,332.32 L1016.91,334.79 L1019.89,326.70 L1022.87,328.46 L1025.85,330.92 L1028.82,340.14 L1031.80,336.77 L1034.78,332.88 L1037.76,330.90 L1040.73,335.04 L1043.71,332.13 L1046.69,328.36 L1049.24,334.39 L1049.67,337.68 L1052.64,335.48 L1055.62,329.45 L1058.60,335.31 L1061.57,328.93 L1064.55,333.08 L1067.53,338.01 L1070.51,331.05 L1073.48,336.22 L1076.46,325.29 L1079.44,323.87 L1082.42,327.90 L1083.27,328.18 L1085.39,319.80 L1088.37,326.12 L1091.35,319.13 L1094.33,319.42 L1097.30,317.63 L1100.28,307.47 L1103.26,298.42 L1106.23,305.26 L1108.79,295.05 L1109.21,287.01 L1112.19,280.30 L1115.17,266.02 L1116.27,264.40 L1118.14,261.50 L1119.85,246.39 L1121.12,236.55 L1124.10,229.02 L1126.23,226.72 L1127.08,233.84 L1130.05,237.53 L1132.61,237.07 L1133.03,241.54 L1136.01,231.10 L1137.96,227.76 L1138.99,237.55 L1141.96,237.87 L1143.41,247.43 L1144.94,254.87 L1147.92,266.24 L1148.77,273.31 L1150.89,287.38 L1153.87,296.30 L1154.30,300.64 L1156.85,316.54 L1157.87,321.96 L1159.83,323.82 L1162.80,333.36 L1165.78,331.06 L1166.97,340.60 L1168.76,338.20 L1171.74,342.77 L1174.71,354.27 L1176.84,355.09 L1177.69,359.78 L1180.67,361.05 L1183.65,362.09 L1186.62,350.70 L1189.60,361.35 L1192.58,353.55 L1195.55,363.53 L1198.53,358.64 L1201.51,364.73 L1202.36,361.30 L1204.49,364.10 L1207.46,357.71 L1210.44,359.73 L1213.42,354.84 L1216.40,365.11 L1219.37,364.63 L1222.35,367.64 L1225.33,365.45 L1227.88,361.30 L1228.31,354.44 L1231.28,361.21 L1234.26,363.21 L1237.24,365.89 L1240.21,360.54 L1243.19,362.29 L1246.17,370.75 L1249.15,373.05 L1252.12,371.94 L1253.40,367.51" stroke="#126c64" stroke-width="2.7" fill="none" stroke-linejoin="round" stroke-dasharray="12 5.5 2.6 5.5" clip-path="url(#cb)"/>
<path d="M743.00,348.88 L745.98,343.60 L748.95,343.31 L751.93,344.00 L754.91,354.05 L757.89,347.74 L760.86,349.83 L763.84,348.51 L766.82,353.47 L769.80,352.71 L772.77,349.57 L775.75,352.35 L778.73,349.44 L781.71,354.78 L784.68,354.03 L785.53,348.88 L787.66,346.17 L790.64,349.61 L793.61,348.33 L796.59,345.43 L799.57,349.95 L802.55,353.55 L805.52,344.39 L808.50,346.65 L811.48,345.66 L814.46,345.97 L817.43,341.48 L820.41,348.89 L823.39,343.81 L826.37,348.52 L828.07,346.81 L829.34,345.53 L832.32,343.52 L835.30,346.92 L838.27,348.85 L841.25,343.12 L844.23,339.18 L847.21,339.86 L850.18,340.73 L853.16,337.41 L856.14,342.22 L859.12,341.36 L862.09,336.46 L865.07,337.12 L868.05,329.47 L871.03,335.64 L874.00,335.12 L876.98,333.78 L879.96,332.99 L882.93,328.51 L884.21,325.07 L885.91,322.07 L888.89,315.32 L891.87,317.74 L894.84,313.60 L897.82,310.94 L898.67,307.26 L900.80,306.12 L903.78,295.24 L906.75,293.08 L908.28,291.11 L909.73,292.01 L912.71,289.56 L914.83,281.59 L915.69,277.92 L918.66,278.35 L921.64,276.32 L924.36,279.93 L924.62,283.62 L927.59,284.81 L930.57,285.19 L931.00,291.11 L933.55,268.57 L934.06,265.44 L936.53,280.57 L936.95,289.66 L939.50,300.01 L942.23,302.50 L942.48,296.97 L945.46,312.66 L948.44,312.46 L948.86,312.03 L951.41,320.87 L954.39,314.50 L957.37,321.76 L960.35,321.35 L963.32,319.72 L966.30,323.73 L969.28,323.87 L972.25,330.89 L975.23,327.22 L976.93,334.39 L978.21,331.54 L981.19,337.13 L984.16,329.90 L987.14,337.90 L990.12,340.76 L993.10,342.80 L996.07,338.54 L998.20,338.53 L999.05,342.35 L1002.03,333.37 L1005.01,333.35 L1007.98,342.65 L1010.96,344.23 L1013.94,339.13 L1016.91,343.77 L1019.89,339.31 L1022.87,336.14 L1025.85,343.28 L1028.82,341.36 L1031.80,335.59 L1032.23,340.60 L1034.78,341.29 L1037.76,342.55 L1040.73,335.72 L1043.71,336.70 L1046.69,335.69 L1049.67,338.27 L1052.64,341.68 L1055.62,338.20 L1058.60,336.50 L1061.57,338.86 L1064.55,343.85 L1066.25,340.60 L1067.53,342.68 L1070.51,340.17 L1073.48,334.58 L1076.46,336.16 L1079.44,335.16 L1082.42,330.64 L1083.27,334.39 L1085.39,335.83 L1088.37,324.56 L1091.35,323.49 L1094.33,315.89 L1097.30,307.68 L1100.02,307.47 L1100.28,310.30 L1103.26,298.11 L1106.23,305.51 L1108.96,297.12 L1109.21,295.34 L1112.19,283.79 L1112.61,282.62 L1115.17,273.20 L1116.27,264.40 L1118.14,254.21 L1119.85,246.39 L1121.12,242.82 L1124.10,233.90 L1126.23,226.72 L1127.08,225.66 L1130.05,240.34 L1132.61,239.14 L1133.03,243.30 L1136.01,256.63 L1137.96,272.27 L1138.99,280.21 L1141.96,281.39 L1143.41,290.91 L1144.94,301.52 L1147.07,307.47 L1147.92,309.52 L1150.89,330.87 L1151.58,330.25 L1153.87,336.16 L1156.85,343.35 L1157.87,344.74 L1159.83,355.80 L1162.80,357.04 L1163.40,361.30 L1165.78,362.45 L1168.76,360.98 L1171.74,363.96 L1174.71,364.88 L1177.69,366.37 L1180.67,370.33 L1183.65,363.99 L1185.35,369.58 L1186.62,374.80 L1189.60,365.17 L1192.58,365.51 L1195.55,370.23 L1198.53,366.95 L1201.51,368.41 L1204.49,369.44 L1207.46,373.52 L1210.44,373.35 L1213.42,373.16 L1216.40,373.93 L1219.37,371.66 L1222.35,366.31 L1225.33,374.35 L1228.31,374.14 L1231.28,374.10 L1234.26,369.54 L1237.24,374.11 L1240.21,373.52 L1243.19,377.59 L1246.17,377.67 L1249.15,380.38 L1252.12,379.15 L1253.40,375.80" stroke="#22227e" stroke-width="3.0" fill="none" stroke-linejoin="round" stroke-dasharray="3 8.6" clip-path="url(#cb)"/>
<path d="M743.00,342.67 L745.98,335.54 L748.95,346.91 L751.93,348.12 L754.91,333.51 L757.89,344.83 L760.86,345.27 L763.84,337.09 L766.82,341.04 L768.52,338.53 L769.80,332.88 L772.77,342.42 L775.75,331.87 L778.73,341.14 L781.71,337.06 L784.68,332.27 L787.66,335.84 L790.64,332.38 L793.61,335.51 L794.04,338.53 L796.59,344.92 L799.57,332.66 L802.55,336.71 L805.52,340.57 L808.50,342.14 L811.48,332.40 L814.46,336.08 L817.43,330.76 L820.41,332.95 L823.39,330.06 L826.37,335.60 L828.07,336.46 L829.34,333.37 L832.32,334.14 L835.30,338.79 L838.27,328.18 L841.25,337.04 L844.23,329.76 L847.21,326.76 L850.18,330.68 L853.16,337.57 L853.59,332.32 L856.14,324.70 L859.12,323.61 L859.97,325.07 L862.09,328.98 L865.07,330.03 L868.05,322.12 L871.03,328.45 L874.00,314.59 L876.13,320.10 L876.98,319.04 L879.96,315.47 L882.93,313.63 L885.91,308.92 L888.89,302.16 L891.87,294.03 L893.57,297.53 L894.84,296.40 L897.82,286.29 L900.37,276.62 L900.80,274.33 L903.78,270.83 L906.67,260.47 L906.75,258.99 L909.73,256.37 L912.71,254.59 L915.69,247.74 L916.54,249.29 L918.66,237.66 L919.60,233.14 L921.64,235.65 L924.36,225.06 L924.62,217.97 L927.59,228.47 L930.57,228.57 L932.53,228.38 L933.55,231.81 L936.53,230.09 L939.50,235.67 L942.23,247.63 L942.48,248.63 L945.46,263.86 L947.16,270.20 L948.44,278.14 L951.41,271.45 L954.39,286.82 L954.99,283.04 L957.37,287.46 L960.35,296.70 L963.32,303.38 L966.30,307.26 L969.28,310.66 L972.25,314.38 L975.23,317.94 L976.08,311.61 L978.21,313.04 L981.19,311.98 L984.16,316.86 L987.14,326.03 L989.69,324.03 L990.12,321.23 L993.10,330.53 L996.07,325.33 L999.05,319.28 L1002.03,317.93 L1005.01,324.61 L1007.98,319.01 L1010.96,324.06 L1013.94,323.69 L1016.91,322.81 L1019.89,316.91 L1022.87,320.50 L1023.72,324.03 L1025.85,324.68 L1028.82,321.36 L1031.80,322.94 L1034.78,327.50 L1037.76,321.62 L1040.73,321.47 L1043.71,324.90 L1046.69,320.41 L1049.67,334.17 L1052.64,327.55 L1055.62,325.97 L1057.75,328.18 L1058.60,330.35 L1061.57,332.32 L1064.55,324.29 L1067.53,327.54 L1070.51,329.45 L1073.48,332.26 L1076.46,318.37 L1079.44,326.80 L1082.42,329.71 L1083.27,324.03 L1085.39,325.82 L1088.37,322.00 L1091.35,309.88 L1094.33,316.55 L1097.30,311.90 L1100.28,305.40 L1103.26,307.61 L1106.23,298.59 L1108.79,295.05 L1109.21,297.54 L1112.19,283.38 L1115.17,265.53 L1116.27,264.40 L1118.14,248.81 L1119.85,246.39 L1121.12,237.78 L1124.10,240.51 L1125.80,228.79 L1127.08,232.12 L1130.05,228.91 L1132.61,237.07 L1133.03,242.99 L1136.01,234.54 L1137.96,226.31 L1138.99,230.26 L1141.96,242.91 L1143.41,246.60 L1144.94,250.60 L1147.92,265.91 L1148.77,273.31 L1150.89,284.33 L1153.87,302.17 L1154.30,300.64 L1156.85,320.07 L1157.87,322.38 L1159.83,329.68 L1162.80,338.56 L1165.78,335.81 L1166.97,340.60 L1168.76,348.59 L1171.74,343.04 L1174.29,353.02 L1174.71,351.14 L1177.69,361.36 L1180.67,356.62 L1183.65,356.77 L1185.35,359.23 L1186.62,366.02 L1189.60,359.94 L1192.58,366.93 L1195.55,356.62 L1198.53,368.02 L1201.51,359.29 L1204.49,354.52 L1207.46,356.90 L1210.44,366.15 L1213.42,362.15 L1216.40,368.23 L1219.37,363.37 L1222.35,364.93 L1225.33,356.65 L1228.31,356.59 L1231.28,367.59 L1234.26,361.49 L1236.39,359.23 L1237.24,357.72 L1240.21,366.27 L1243.19,358.99 L1246.17,359.49 L1249.15,366.25 L1252.12,370.81 L1253.40,369.58" stroke="#cc2030" stroke-width="2.7" fill="none" stroke-linejoin="round" stroke-dasharray="12 8" clip-path="url(#cb)"/>
<path d="M743.00,363.37 L745.98,357.39 L747.25,348.88 L748.95,340.62 L750.66,337.08 L751.93,340.18 L754.91,353.02 L757.89,354.73 L760.86,359.45 L763.42,357.16 L763.84,353.40 L766.82,352.30 L769.80,355.07 L772.77,354.25 L775.75,356.69 L777.03,353.02 L778.73,358.73 L781.71,353.36 L784.68,349.89 L787.66,355.50 L790.64,345.69 L792.34,348.88 L793.61,352.02 L796.59,351.59 L799.57,353.53 L802.55,341.24 L805.52,344.03 L806.80,346.81 L808.50,341.56 L811.48,343.74 L814.46,349.94 L817.43,345.24 L818.71,342.67 L820.41,342.70 L823.39,347.44 L826.37,337.05 L829.34,344.30 L832.32,342.67 L835.30,343.33 L838.27,331.48 L840.83,332.32 L841.25,336.48 L844.23,323.01 L847.21,325.42 L850.18,321.34 L853.16,321.83 L856.14,325.56 L859.12,324.94 L859.97,325.07 L862.09,326.83 L865.07,325.72 L868.05,316.99 L871.03,308.73 L874.00,312.85 L874.51,308.92 L876.98,295.47 L878.51,292.77 L879.96,298.44 L882.93,293.21 L884.21,300.84 L885.91,289.47 L888.89,279.86 L891.44,273.31 L891.87,270.55 L894.84,276.38 L896.97,279.93 L897.82,270.19 L900.37,252.39 L900.80,255.17 L903.78,237.39 L904.29,234.80 L906.75,229.71 L908.28,233.14 L909.73,234.94 L912.71,222.03 L913.13,226.72 L915.69,216.86 L917.22,218.65 L918.66,210.48 L921.21,192.97 L921.64,197.20 L924.62,214.02 L925.21,216.99 L927.59,215.84 L930.57,205.07 L933.55,209.42 L934.06,207.46 L936.53,235.46 L938.91,250.95 L939.50,257.17 L942.48,255.25 L943.76,260.47 L945.46,259.47 L948.44,274.60 L950.22,279.93 L951.41,283.37 L954.39,290.96 L956.52,297.53 L957.37,295.71 L960.35,306.66 L963.32,306.26 L966.30,312.03 L969.28,314.29 L972.25,316.43 L975.23,324.88 L976.08,321.76 L978.21,326.21 L981.19,324.50 L984.16,317.80 L987.14,325.51 L989.69,324.03 L990.12,322.62 L993.10,324.78 L996.07,325.86 L998.20,319.89 L999.05,325.70 L1002.03,317.86 L1005.01,319.76 L1007.98,326.21 L1010.96,323.83 L1013.94,325.37 L1015.21,328.18 L1016.91,323.57 L1019.89,323.43 L1022.87,330.88 L1025.85,324.26 L1028.82,325.20 L1031.80,330.42 L1034.78,327.38 L1037.76,332.86 L1040.73,333.35 L1043.71,335.23 L1046.69,337.15 L1049.67,329.67 L1052.64,338.86 L1055.62,340.35 L1058.60,331.54 L1061.57,332.25 L1064.55,336.20 L1067.53,332.13 L1068.81,336.46 L1070.51,341.11 L1073.48,336.96 L1076.46,334.97 L1079.44,331.76 L1081.57,329.62 L1082.42,332.57 L1085.39,329.81 L1088.37,322.45 L1090.92,316.99 L1091.35,311.45 L1094.33,306.27 L1097.30,305.09 L1100.02,304.36 L1100.28,304.42 L1103.26,304.82 L1106.23,293.63 L1108.96,297.12 L1109.21,295.79 L1112.19,281.47 L1112.61,282.62 L1115.17,275.77 L1116.27,264.40 L1118.14,258.54 L1119.85,246.39 L1121.12,237.84 L1124.10,228.23 L1126.23,224.65 L1127.08,221.60 L1130.05,230.97 L1132.61,237.28 L1133.03,241.06 L1136.01,259.15 L1137.96,273.31 L1138.99,272.38 L1141.96,289.07 L1143.41,291.53 L1144.94,298.73 L1147.07,309.75 L1147.92,316.98 L1150.89,326.46 L1151.58,333.35 L1153.87,344.04 L1156.85,341.63 L1157.87,345.98 L1159.83,346.72 L1162.80,367.97 L1163.40,363.99 L1165.78,362.53 L1168.33,363.37 L1168.76,361.69 L1171.74,359.83 L1174.71,363.88 L1176.84,365.44 L1177.69,368.87 L1180.67,368.45 L1183.65,363.00 L1186.62,365.08 L1189.60,376.09 L1192.58,378.00 L1195.55,379.43 L1198.53,381.70 L1199.81,376.42 L1201.51,376.84 L1204.49,380.24 L1207.46,370.80 L1210.44,373.03 L1213.42,379.18 L1216.40,373.66 L1219.37,373.73 L1222.35,377.84 L1225.33,377.67 L1228.31,383.01 L1231.28,385.60 L1232.13,382.01 L1234.26,385.31 L1237.24,382.04 L1240.21,377.04 L1243.19,378.16 L1246.17,383.55 L1249.15,374.42 L1252.12,371.52 L1253.40,375.80" stroke="#000000" stroke-width="2.4" fill="none" stroke-linejoin="round" clip-path="url(#cb)"/>
<g transform="translate(730.75,459.40) scale(0.9500,1)" fill="#1f1f1f" stroke="#1f1f1f" stroke-width="0.35"><text x="0.000" y="0" font-size="23.4" font-weight="bold">50</text></g>
<g transform="translate(817.42,459.40) scale(0.9500,1)" fill="#1f1f1f" stroke="#1f1f1f" stroke-width="0.35"><text x="0.000" y="0" font-size="23.4" font-weight="bold">5</text><path transform="translate(13.014,0) scale(0.01143,-0.01143)" stroke-width="30.6" d="M759 0H478V1010Q330 870 130 805V1050Q240 1088 360 1180Q470 1270 520 1409H759Z"/></g>
<g transform="translate(900.87,459.40) scale(0.9500,1)" fill="#1f1f1f" stroke="#1f1f1f" stroke-width="0.35"><text x="0.000" y="0" font-size="23.4" font-weight="bold">52</text></g>
<g transform="translate(985.90,459.40) scale(0.9500,1)" fill="#1f1f1f" stroke="#1f1f1f" stroke-width="0.35"><text x="0.000" y="0" font-size="23.4" font-weight="bold">53</text></g>
<g transform="translate(1070.62,459.40) scale(0.9500,1)" fill="#1f1f1f" stroke="#1f1f1f" stroke-width="0.35"><text x="0.000" y="0" font-size="23.4" font-weight="bold">54</text></g>
<g transform="translate(1155.94,459.40) scale(0.9500,1)" fill="#1f1f1f" stroke="#1f1f1f" stroke-width="0.35"><text x="0.000" y="0" font-size="23.4" font-weight="bold">55</text></g>
<g transform="translate(1241.10,459.40) scale(0.9500,1)" fill="#1f1f1f" stroke="#1f1f1f" stroke-width="0.35"><text x="0.000" y="0" font-size="23.4" font-weight="bold">56</text></g>
<g transform="translate(702.58,438.10) scale(0.9700,1)" fill="#1f1f1f" stroke="#1f1f1f" stroke-width="0.35"><text x="0.000" y="0" font-size="23.4" font-weight="bold">0.0</text></g>
<g transform="translate(702.28,334.57) scale(0.9700,1)" fill="#1f1f1f" stroke="#1f1f1f" stroke-width="0.35"><text x="0.000" y="0" font-size="23.4" font-weight="bold">0.5</text></g>
<g transform="translate(702.58,231.05) scale(0.9700,1)" fill="#1f1f1f" stroke="#1f1f1f" stroke-width="0.35"><path transform="translate(0.000,0) scale(0.01143,-0.01143)" stroke-width="30.6" d="M759 0H478V1010Q330 870 130 805V1050Q240 1088 360 1180Q470 1270 520 1409H759Z"/><text x="13.014" y="0" font-size="23.4" font-weight="bold">.0</text></g>
<g transform="translate(702.28,127.53) scale(0.9700,1)" fill="#1f1f1f" stroke="#1f1f1f" stroke-width="0.35"><path transform="translate(0.000,0) scale(0.01143,-0.01143)" stroke-width="30.6" d="M759 0H478V1010Q330 870 130 805V1050Q240 1088 360 1180Q470 1270 520 1409H759Z"/><text x="13.014" y="0" font-size="23.4" font-weight="bold">.5</text></g>
<g transform="translate(702.58,24.00) scale(0.9700,1)" fill="#1f1f1f" stroke="#1f1f1f" stroke-width="0.35"><text x="0.000" y="0" font-size="23.4" font-weight="bold">2.0</text></g>
<g transform="translate(917.31,485.50) scale(1.0418,1)" fill="#1f1f1f" stroke="#1f1f1f" stroke-width="0.35"><text x="0.000" y="0" font-size="22" font-weight="bold">2 Theta (degree)</text></g>
<g transform="translate(667.00,332.57) rotate(-90) scale(1.0203,1)" fill="#1f1f1f" stroke="#1f1f1f" stroke-width="0.35"><text x="0.000" y="0" font-size="23" font-weight="bold">Normalized intensity</text></g>
<g transform="translate(650.46,51.00) scale(1.0448,1)" fill="#1f1f1f" stroke="#1f1f1f" stroke-width="0.35"><text x="0.000" y="0" font-size="34" font-weight="bold">b</text></g>
<path d="M763.9,42H809.6" stroke="#000000" stroke-width="2.8" fill="none"/>
<g transform="translate(814.09,48.60) scale(1.03,1)" fill="#1f1f1f" stroke="#1f1f1f" stroke-width="0.6"><path transform="translate(0.000,0) scale(0.00967,-0.00967)" stroke-width="62.1" d="M763 0H583V1098Q518 1038 412 979Q306 920 222 890V1057Q373 1125 486 1221Q599 1318 646 1409H763Z"/><text x="11.012" y="0" font-size="19.8" font-weight="normal">.2 V</text></g>
<path d="M763.9,66H809.6" stroke="#cc2030" stroke-width="3.1" fill="none" stroke-dasharray="12 8"/>
<g transform="translate(814.09,72.60) scale(1.03,1)" fill="#1f1f1f" stroke="#1f1f1f" stroke-width="0.6"><path transform="translate(0.000,0) scale(0.00967,-0.00967)" stroke-width="62.1" d="M763 0H583V1098Q518 1038 412 979Q306 920 222 890V1057Q373 1125 486 1221Q599 1318 646 1409H763Z"/><text x="11.012" y="0" font-size="19.8" font-weight="normal">.3 V</text></g>
<path d="M763.9,90.8H809.6" stroke="#22227e" stroke-width="3.4" fill="none" stroke-dasharray="3 8.6" stroke-dashoffset="9.8"/>
<g transform="translate(814.09,97.40) scale(1.03,1)" fill="#1f1f1f" stroke="#1f1f1f" stroke-width="0.6"><path transform="translate(0.000,0) scale(0.00967,-0.00967)" stroke-width="62.1" d="M763 0H583V1098Q518 1038 412 979Q306 920 222 890V1057Q373 1125 486 1221Q599 1318 646 1409H763Z"/><text x="11.012" y="0" font-size="19.8" font-weight="normal">.4 V</text></g>
<path d="M763.9,115.2H809.6" stroke="#126c64" stroke-width="3.1" fill="none" stroke-dasharray="12 5.5 2.6 5.5"/>
<g transform="translate(814.09,121.80) scale(1.03,1)" fill="#1f1f1f" stroke="#1f1f1f" stroke-width="0.6"><path transform="translate(0.000,0) scale(0.00967,-0.00967)" stroke-width="62.1" d="M763 0H583V1098Q518 1038 412 979Q306 920 222 890V1057Q373 1125 486 1221Q599 1318 646 1409H763Z"/><text x="11.012" y="0" font-size="19.8" font-weight="normal">.5 V</text></g>
<path d="M763.9,139.5H809.6" stroke="#b028b0" stroke-width="3.1" fill="none" stroke-dasharray="10 4.5 2.6 4.5 2.6 5.4"/>
<g transform="translate(814.09,146.10) scale(1.03,1)" fill="#1f1f1f" stroke="#1f1f1f" stroke-width="0.6"><path transform="translate(0.000,0) scale(0.00967,-0.00967)" stroke-width="62.1" d="M763 0H583V1098Q518 1038 412 979Q306 920 222 890V1057Q373 1125 486 1221Q599 1318 646 1409H763Z"/><text x="11.012" y="0" font-size="19.8" font-weight="normal">.6 V</text></g>
<path d="M973.2,193.2V277.6" stroke="#000" stroke-width="2.8"/>
<path d="M967.6,275.6L978.8000000000001,275.6L973.2,298.6Z" fill="#111"/>
<path d="M1126,118V155.6" stroke="#000" stroke-width="2.8"/>
<path d="M1120.4,153.6L1131.6,153.6L1126,176.6Z" fill="#111"/>
<g transform="translate(862.60,176.40) scale(1.0403,1)" fill="#1f1f1f" stroke="#1f1f1f" stroke-width="0.35"><text x="0.000" y="0" font-size="21.5" font-weight="bold">Ni(OH)</text></g>
<g transform="translate(935.92,184.50) scale(0.9081,1)" fill="#1f1f1f" stroke="#1f1f1f" stroke-width="0.35"><text x="0.000" y="0" font-size="21.5" font-weight="bold">2</text></g>
<g transform="translate(954.22,176.40) scale(1.0541,1)" fill="#1f1f1f" stroke="#1f1f1f" stroke-width="0.35"><text x="0.000" y="0" font-size="21.5" font-weight="bold">(</text><path transform="translate(7.160,0) scale(0.01050,-0.01050)" stroke-width="33.3" d="M759 0H478V1010Q330 870 130 805V1050Q240 1088 360 1180Q470 1270 520 1409H759Z"/><text x="19.117" y="0" font-size="21.5" font-weight="bold">02)</text></g>
<g transform="translate(1071.10,106.70) scale(1.0396,1)" fill="#1f1f1f" stroke="#1f1f1f" stroke-width="0.35"><text x="0.000" y="0" font-size="24.5" font-weight="bold">Reference</text></g>
<g transform="translate(1063.76,200.80) scale(1.0218,1)" fill="#1f1f1f" stroke="#1f1f1f" stroke-width="0.35"><text x="0.000" y="0" font-size="22.5" font-weight="bold">Graphite (004)</text></g>
<clipPath id="cc"><rect x="102.2" y="516.4" width="511.00000000000006" height="413.6"/></clipPath>
<path d="M102.20,930v-8M102.20,516.4v8M187.37,930v-8M187.37,516.4v8M272.53,930v-8M272.53,516.4v8M357.70,930v-8M357.70,516.4v8M442.87,930v-8M442.87,516.4v8M528.03,930v-8M528.03,516.4v8M613.20,930v-8M613.20,516.4v8M144.78,930v-4.5M144.78,516.4v4.5M229.95,930v-4.5M229.95,516.4v4.5M315.12,930v-4.5M315.12,516.4v4.5M400.28,930v-4.5M400.28,516.4v4.5M485.45,930v-4.5M485.45,516.4v4.5M570.62,930v-4.5M570.62,516.4v4.5M102.2,930.00h8M613.2,930.00h-8M102.2,826.60h8M613.2,826.60h-8M102.2,723.20h8M613.2,723.20h-8M102.2,619.80h8M613.2,619.80h-8M102.2,516.40h8M613.2,516.40h-8M102.2,878.30h4.5M613.2,878.30h-4.5M102.2,774.90h4.5M613.2,774.90h-4.5M102.2,671.50h4.5M613.2,671.50h-4.5M102.2,568.10h4.5M613.2,568.10h-4.5" stroke="#2a2a2a" stroke-width="2" fill="none"/>
<rect x="102.2" y="516.4" width="511.00" height="413.60" stroke="#2a2a2a" stroke-width="2" fill="none"/>
<path d="M102.20,884.50 L105.18,884.30 L108.16,882.71 L111.14,882.98 L114.12,882.15 L117.10,887.66 L120.09,881.72 L123.07,885.59 L126.05,884.18 L127.75,886.57 L129.03,884.41 L132.01,883.18 L134.99,889.51 L137.97,889.03 L140.95,886.20 L143.93,887.76 L144.78,888.64 L146.91,885.67 L149.89,888.22 L152.87,881.88 L155.86,889.50 L158.84,882.07 L161.82,884.27 L164.80,886.48 L167.78,879.60 L170.33,880.37 L170.76,883.90 L173.74,878.41 L176.29,872.72 L176.72,873.62 L179.70,870.32 L182.68,862.38 L185.66,858.52 L186.52,853.48 L188.64,857.36 L191.62,850.33 L194.18,853.48 L194.61,857.41 L197.59,854.52 L200.57,862.91 L202.70,863.62 L203.55,868.20 L206.53,863.20 L209.51,869.08 L210.36,870.23 L212.49,869.83 L215.47,872.00 L218.03,879.33 L218.45,879.49 L221.43,881.21 L224.41,882.07 L225.69,881.40 L227.39,884.51 L230.38,883.19 L233.36,881.50 L236.34,887.40 L238.47,888.64 L239.32,886.51 L242.30,886.03 L245.28,887.29 L248.26,889.46 L251.24,891.30 L254.22,896.12 L255.50,892.78 L257.20,893.69 L260.18,888.99 L263.17,892.37 L266.15,889.84 L269.13,893.31 L272.11,890.00 L275.09,892.95 L278.07,887.43 L281.05,886.82 L284.03,893.70 L287.01,887.45 L289.57,888.64 L289.99,892.36 L292.97,884.83 L295.95,892.11 L298.94,892.78 L301.92,886.07 L304.90,888.84 L307.88,894.57 L310.86,890.67 L313.84,887.61 L315.12,890.71 L316.82,893.67 L319.80,888.18 L322.78,892.23 L325.76,890.72 L328.74,891.00 L331.72,893.96 L334.71,890.76 L337.69,889.41 L340.67,888.39 L343.65,888.96 L346.63,892.18 L349.61,888.07 L352.59,890.80 L355.57,885.10 L357.70,888.64 L358.55,892.26 L361.53,885.94 L364.51,892.08 L367.49,887.59 L370.47,889.37 L373.46,888.24 L376.44,886.03 L379.42,884.87 L382.40,891.96 L385.38,883.80 L388.36,885.77 L391.34,890.62 L394.32,885.07 L397.30,883.90 L400.28,886.57 L403.26,887.30 L406.25,882.26 L409.23,888.34 L412.21,885.24 L415.19,886.74 L418.17,881.02 L421.15,885.31 L424.13,885.38 L427.11,878.12 L430.09,883.03 L433.07,882.12 L436.05,879.53 L439.03,883.84 L442.02,877.67 L442.87,880.37 L445.00,878.30 L447.98,879.60 L450.96,876.34 L453.94,875.15 L456.92,881.75 L459.90,873.42 L462.88,876.93 L465.86,874.08 L468.42,876.23 L468.84,874.60 L471.82,871.82 L474.80,873.44 L477.78,878.01 L480.77,878.72 L482.21,875.40 L483.75,875.81 L486.73,876.11 L489.71,872.92 L492.69,875.96 L495.67,873.68 L498.65,874.64 L501.63,876.17 L502.48,875.40 L504.61,875.04 L507.59,883.40 L510.57,883.52 L513.55,886.30 L514.41,886.57 L516.54,882.86 L519.52,876.74 L522.07,876.85 L522.50,876.27 L525.48,883.30 L528.46,879.57 L531.44,883.39 L533.14,883.06 L534.42,883.94 L537.40,882.92 L540.38,886.48 L543.36,881.61 L545.07,884.50 L546.34,886.00 L549.33,886.76 L552.31,885.85 L553.58,886.57 L555.29,891.07 L558.27,889.32 L561.25,883.96 L562.10,888.64 L564.23,892.09 L567.21,889.64 L570.19,886.19 L573.17,888.87 L576.15,887.57 L579.13,885.48 L582.11,885.52 L585.10,889.30 L588.08,890.03 L591.06,893.08 L594.04,886.43 L596.17,888.64 L597.02,892.03 L600.00,889.42 L602.98,892.90 L605.96,887.58 L608.94,890.57 L611.92,894.08 L613.20,890.71" stroke="#b028b0" stroke-width="2.7" fill="none" stroke-linejoin="round" stroke-dasharray="10 4.5 2.6 4.5 2.6 5.4" clip-path="url(#cc)"/>
<path d="M102.20,863.82 L105.18,864.25 L108.16,864.38 L111.14,862.45 L114.12,862.60 L117.10,863.49 L119.23,867.96 L120.09,869.43 L123.07,863.63 L126.05,869.30 L129.03,870.76 L132.01,873.19 L134.99,869.11 L137.97,873.05 L140.95,872.05 L143.93,868.82 L144.78,870.03 L146.91,866.76 L149.89,866.42 L152.87,872.73 L155.86,872.41 L158.84,869.83 L161.82,866.18 L164.80,862.64 L166.08,865.89 L167.78,862.26 L170.76,859.96 L173.74,862.61 L176.72,861.20 L177.49,862.38 L179.70,859.38 L181.40,853.28 L182.68,852.96 L185.66,848.85 L186.00,845.21 L188.64,840.04 L190.77,830.94 L191.62,829.44 L194.18,826.39 L194.61,825.28 L197.59,825.64 L200.57,827.51 L203.55,827.18 L206.10,826.39 L206.53,829.39 L209.51,826.28 L210.36,830.32 L212.49,834.30 L214.11,838.80 L215.47,838.26 L218.45,842.04 L219.39,846.66 L221.43,853.21 L223.14,854.52 L224.41,859.84 L227.39,861.29 L229.95,861.76 L230.38,857.86 L233.36,861.22 L236.34,867.39 L238.47,867.96 L239.32,865.15 L242.30,869.83 L245.28,864.60 L248.26,872.79 L251.24,866.24 L254.22,863.95 L257.20,869.92 L260.18,869.67 L263.17,873.28 L266.15,871.96 L269.13,872.57 L272.11,872.11 L272.53,870.03 L275.09,874.37 L278.07,871.83 L281.05,873.71 L284.03,869.22 L287.01,870.29 L289.99,872.00 L292.97,864.45 L295.95,870.86 L298.94,868.42 L301.92,864.52 L304.90,865.79 L307.88,863.50 L310.86,867.04 L313.84,864.19 L315.12,867.96 L316.82,872.62 L319.80,865.99 L322.78,870.40 L325.76,870.85 L328.74,866.50 L331.72,867.07 L334.71,871.50 L337.69,871.56 L340.67,872.73 L343.65,866.24 L346.63,869.83 L349.61,873.79 L352.59,871.27 L355.57,876.46 L357.70,872.10 L358.55,874.40 L361.53,871.71 L364.51,866.55 L367.49,867.44 L370.47,870.36 L373.46,867.85 L376.44,872.84 L379.42,867.98 L382.40,864.57 L385.38,872.99 L388.36,864.64 L391.34,863.81 L394.32,869.90 L397.30,865.00 L400.28,867.96 L403.26,862.91 L406.25,871.60 L409.23,868.32 L412.21,866.99 L415.19,864.92 L418.17,870.38 L421.15,865.36 L424.13,865.85 L427.11,864.26 L430.09,865.54 L433.07,864.23 L436.05,866.88 L439.03,867.51 L442.02,868.36 L442.87,867.96 L445.00,868.67 L447.98,867.73 L450.96,867.05 L453.94,867.73 L456.92,869.92 L459.90,865.89 L462.88,865.66 L465.86,858.70 L468.84,864.02 L471.82,855.73 L474.80,855.99 L477.78,858.62 L478.98,857.62 L480.77,859.66 L483.75,851.36 L486.73,849.12 L488.69,852.86 L489.71,854.64 L492.69,850.42 L495.67,849.03 L498.22,851.21 L498.65,849.90 L501.63,854.64 L504.61,853.01 L507.59,847.55 L509.55,849.55 L510.57,848.95 L513.55,850.89 L516.54,857.24 L517.81,855.97 L519.52,852.64 L522.50,854.76 L525.48,858.83 L527.18,859.27 L528.46,855.92 L531.44,862.36 L533.14,860.72 L534.42,861.60 L537.40,864.57 L540.38,862.79 L543.36,865.95 L545.07,872.10 L546.34,872.50 L549.33,865.06 L552.31,867.16 L553.58,863.82 L555.29,864.14 L558.27,864.29 L561.25,866.70 L564.23,873.63 L567.21,871.08 L570.19,872.70 L573.17,869.50 L576.15,874.58 L579.13,870.03 L582.11,874.73 L585.10,874.53 L588.08,866.80 L591.06,869.70 L594.04,867.14 L597.02,866.53 L600.00,870.59 L602.98,867.89 L605.96,872.33 L608.94,870.71 L611.92,875.46 L613.20,872.10" stroke="#126c64" stroke-width="2.7" fill="none" stroke-linejoin="round" stroke-dasharray="12 5.5 2.6 5.5" clip-path="url(#cc)"/>
<path d="M102.20,874.16 L105.18,873.52 L108.16,872.96 L111.14,871.28 L114.12,876.19 L117.10,872.78 L120.09,870.61 L123.07,870.44 L126.05,877.02 L129.03,872.78 L132.01,873.10 L134.99,874.13 L136.27,874.16 L137.97,869.30 L140.95,872.20 L143.93,871.87 L146.91,866.25 L149.89,867.97 L152.87,869.92 L153.30,867.96 L155.86,867.63 L158.84,863.51 L161.82,865.14 L164.80,857.68 L166.08,857.62 L167.78,853.06 L170.76,851.66 L173.74,843.61 L176.29,843.14 L176.72,838.17 L179.70,834.00 L180.13,833.42 L182.68,822.63 L183.36,821.84 L185.32,810.06 L185.66,812.01 L188.56,795.58 L188.64,799.39 L191.62,782.81 L191.88,786.48 L194.61,776.76 L195.88,769.32 L197.59,775.85 L200.57,776.51 L200.99,781.10 L203.55,784.00 L206.10,791.44 L206.53,796.37 L209.51,803.44 L212.49,815.38 L212.92,815.23 L214.11,827.01 L215.47,831.32 L218.45,835.34 L221.43,837.56 L224.41,847.72 L226.54,847.28 L227.39,848.66 L230.38,856.30 L233.36,861.11 L234.21,861.76 L236.34,866.00 L239.32,868.61 L242.30,871.25 L245.28,865.53 L246.98,870.03 L248.26,868.40 L251.24,871.55 L254.22,876.97 L255.50,874.16 L257.20,877.36 L260.18,877.62 L263.17,875.83 L266.15,878.19 L269.13,876.21 L272.11,876.87 L275.09,876.96 L278.07,872.77 L281.05,874.55 L284.03,874.41 L287.01,875.46 L289.99,873.81 L292.97,871.57 L295.95,875.91 L298.94,878.07 L301.92,874.34 L304.90,875.26 L307.88,871.61 L310.86,877.70 L313.84,870.77 L315.12,874.16 L316.82,878.74 L319.80,874.23 L322.78,875.42 L325.76,876.88 L328.74,871.95 L331.72,873.94 L334.71,879.13 L337.69,876.40 L340.67,875.62 L343.65,881.18 L346.63,880.98 L349.61,876.59 L352.59,875.72 L355.57,878.43 L357.70,878.30 L358.55,879.05 L361.53,878.42 L364.51,880.81 L367.49,875.35 L370.47,874.72 L373.46,879.23 L376.44,883.57 L379.42,880.29 L382.40,876.74 L385.38,881.24 L388.36,883.38 L391.34,882.80 L394.32,878.15 L397.30,879.11 L400.28,880.37 L403.26,882.02 L406.25,878.66 L409.23,877.13 L412.21,874.97 L415.19,875.91 L418.17,879.23 L421.15,875.52 L424.13,874.18 L427.11,874.41 L430.09,875.19 L433.07,876.39 L436.05,876.79 L439.03,873.42 L442.02,875.18 L442.87,876.23 L445.00,873.36 L447.98,876.64 L450.96,876.67 L453.94,873.84 L456.92,869.79 L459.90,868.67 L462.88,870.87 L465.86,869.76 L468.42,865.89 L468.84,861.45 L471.82,867.01 L474.80,856.81 L477.78,855.78 L480.60,855.97 L480.77,855.04 L483.75,846.72 L486.73,845.12 L489.71,846.77 L492.69,833.81 L493.54,836.53 L495.67,833.11 L498.65,822.64 L499.93,823.91 L501.63,820.74 L504.61,826.33 L507.59,826.67 L508.79,822.26 L510.57,828.66 L513.55,825.14 L514.41,828.67 L516.54,831.64 L519.26,841.49 L519.52,844.22 L522.50,848.28 L525.48,848.98 L528.46,848.06 L528.88,851.21 L531.44,854.29 L534.00,861.76 L534.42,858.67 L537.40,859.57 L540.38,863.32 L540.81,865.89 L543.36,864.08 L546.34,872.98 L549.33,874.52 L552.31,868.18 L555.29,871.84 L558.27,875.95 L561.25,879.20 L562.10,876.23 L564.23,878.10 L567.21,878.52 L570.19,877.58 L573.17,878.48 L576.15,881.22 L579.13,882.79 L582.11,882.17 L585.10,883.34 L587.65,880.37 L588.08,884.01 L591.06,881.15 L594.04,883.73 L597.02,877.64 L600.00,879.96 L602.98,880.73 L605.96,879.10 L608.94,882.78 L611.92,884.70 L613.20,880.37" stroke="#22227e" stroke-width="3.0" fill="none" stroke-linejoin="round" stroke-dasharray="3 8.6" clip-path="url(#cc)"/>
<path d="M102.20,870.03 L105.18,875.16 L108.16,873.83 L111.14,873.03 L114.12,866.36 L117.10,871.28 L120.09,868.93 L123.07,876.35 L126.05,871.85 L127.75,872.10 L129.03,868.02 L132.01,871.49 L134.99,866.36 L137.97,866.85 L140.95,872.52 L143.93,876.57 L146.91,867.59 L149.89,874.63 L152.87,875.74 L153.30,870.03 L155.86,864.87 L158.84,860.68 L161.82,857.86 L164.80,853.61 L166.08,857.62 L167.78,858.45 L170.76,855.25 L173.74,850.20 L174.93,843.97 L176.72,831.63 L179.70,830.32 L180.04,824.53 L182.68,804.68 L185.32,783.79 L185.66,784.85 L187.96,761.46 L188.64,763.05 L191.20,742.64 L191.62,744.84 L194.52,719.06 L194.61,723.98 L197.59,705.39 L198.44,699.42 L200.57,706.12 L203.55,708.36 L204.40,707.28 L206.53,708.37 L209.51,725.66 L210.36,724.23 L212.49,732.46 L214.11,745.12 L215.47,752.93 L216.75,765.59 L218.45,774.63 L220.58,787.72 L221.43,790.42 L224.41,800.67 L225.27,807.37 L227.39,818.47 L228.50,825.77 L230.38,833.51 L233.36,839.66 L236.34,847.97 L236.42,845.21 L239.32,849.74 L242.30,846.43 L245.28,855.55 L248.26,860.02 L251.24,867.77 L254.22,866.68 L255.50,867.96 L257.20,864.75 L260.18,869.73 L263.17,867.48 L266.15,875.28 L269.13,876.34 L272.11,870.12 L272.53,872.10 L275.09,877.33 L278.07,874.39 L281.05,873.43 L284.03,875.65 L287.01,877.47 L289.99,877.81 L292.97,866.87 L295.95,869.91 L298.94,866.86 L301.92,872.19 L304.90,866.83 L307.88,867.90 L310.86,870.73 L313.84,871.80 L315.12,872.10 L316.82,872.16 L319.80,875.73 L322.78,874.27 L325.76,870.55 L328.74,876.95 L331.72,869.66 L334.71,873.88 L337.69,873.08 L340.67,870.85 L343.65,873.17 L346.63,879.35 L349.61,878.37 L352.59,881.51 L355.57,881.50 L357.70,876.23 L358.55,871.00 L361.53,875.16 L364.51,870.80 L367.49,872.98 L370.47,878.37 L373.46,870.82 L376.44,871.34 L379.42,876.74 L382.40,881.06 L385.38,878.33 L388.36,880.10 L391.34,877.79 L394.32,881.07 L397.30,873.76 L400.28,876.23 L403.26,870.14 L406.25,878.50 L409.23,871.36 L412.21,873.08 L415.19,873.72 L418.17,868.26 L421.15,873.85 L424.13,868.17 L427.11,876.73 L430.09,865.41 L433.07,873.94 L434.35,870.03 L436.05,874.94 L439.03,863.30 L442.02,863.69 L445.00,862.76 L447.98,860.23 L450.96,863.26 L453.94,864.84 L456.92,861.01 L459.90,852.18 L462.88,855.97 L465.86,848.64 L468.84,855.59 L470.97,851.21 L471.82,851.39 L474.80,849.60 L477.78,842.64 L480.77,851.35 L482.21,844.80 L483.75,837.51 L486.73,837.41 L488.69,830.12 L489.71,823.47 L491.92,810.88 L492.69,813.04 L495.67,805.27 L498.31,793.10 L498.65,787.81 L501.63,784.79 L504.61,771.93 L504.78,776.97 L507.59,777.14 L510.57,783.10 L511.00,786.69 L513.55,795.99 L516.54,795.13 L517.64,798.06 L519.52,796.81 L522.50,809.57 L525.48,821.71 L525.73,817.29 L528.46,825.61 L531.44,821.41 L534.42,826.63 L536.98,836.53 L537.40,840.55 L540.38,847.34 L543.36,852.86 L546.34,854.17 L549.33,860.37 L552.31,867.91 L553.58,865.89 L555.29,860.83 L558.27,866.01 L561.25,869.94 L564.23,874.87 L566.36,870.03 L567.21,870.32 L570.19,868.97 L573.17,877.07 L576.15,879.56 L579.13,876.23 L582.11,873.82 L585.10,871.73 L588.08,878.20 L591.06,877.27 L594.04,875.56 L597.02,877.09 L600.00,881.80 L602.98,880.29 L605.96,881.26 L608.94,881.55 L611.92,882.99 L613.20,878.30" stroke="#cc2030" stroke-width="2.7" fill="none" stroke-linejoin="round" stroke-dasharray="12 8" clip-path="url(#cc)"/>
<path d="M102.20,875.82 L105.18,880.69 L108.16,880.21 L111.14,878.10 L114.12,875.88 L117.10,881.28 L119.23,878.30 L120.09,881.88 L123.07,880.96 L126.05,876.35 L129.03,882.07 L132.01,876.85 L134.99,877.74 L137.12,879.33 L137.97,882.20 L140.95,877.02 L143.93,876.28 L146.91,875.06 L149.89,872.72 L152.87,863.40 L155.86,866.83 L156.71,861.76 L158.84,864.22 L161.82,857.21 L164.80,851.46 L166.42,854.52 L167.78,848.97 L169.48,840.04 L170.76,839.57 L173.74,830.87 L174.17,828.25 L176.72,815.56 L178.00,807.37 L179.70,790.09 L181.40,781.10 L182.68,769.08 L183.28,759.60 L185.32,734.78 L185.66,732.82 L187.28,708.72 L188.64,687.94 L189.07,682.46 L191.20,662.61 L191.62,660.88 L194.61,648.10 L195.88,648.34 L197.59,641.21 L199.72,639.24 L200.57,651.86 L200.99,656.20 L202.95,675.84 L203.55,684.24 L204.31,688.87 L206.53,690.31 L209.51,699.42 L210.79,715.13 L212.49,726.40 L212.92,734.78 L214.62,759.60 L215.47,772.47 L216.75,781.10 L218.45,787.44 L221.43,801.05 L222.03,807.37 L224.41,815.01 L227.22,827.01 L227.39,830.19 L230.38,835.71 L231.23,841.49 L233.36,851.29 L233.78,855.76 L236.34,858.41 L237.62,855.55 L239.32,856.21 L241.62,860.10 L242.30,862.12 L245.28,857.21 L248.26,866.81 L251.24,869.56 L253.80,872.72 L254.22,874.30 L257.20,874.30 L260.18,872.58 L263.17,871.42 L266.15,870.84 L269.13,871.26 L272.11,871.66 L272.53,876.23 L275.09,873.72 L278.07,878.26 L281.05,879.59 L284.03,875.66 L287.01,876.52 L289.99,875.49 L292.97,880.92 L295.95,880.16 L298.94,873.68 L301.92,876.74 L304.90,876.03 L307.88,881.63 L310.86,879.01 L313.84,874.51 L315.12,878.30 L316.82,877.00 L319.80,873.99 L322.78,881.32 L325.76,879.07 L328.74,876.03 L331.72,879.37 L334.71,876.34 L337.69,878.51 L340.67,882.64 L343.65,882.92 L346.63,874.98 L349.61,882.94 L352.59,882.36 L355.57,881.17 L357.70,879.75 L358.55,877.57 L361.53,875.47 L364.51,878.09 L367.49,877.07 L370.47,876.23 L373.46,876.14 L376.44,883.32 L379.42,884.99 L382.40,885.34 L385.38,887.66 L385.80,889.26 L388.36,892.48 L391.34,890.65 L394.32,889.26 L397.30,882.77 L400.28,881.91 L403.26,878.20 L406.25,878.92 L408.80,880.37 L409.23,882.63 L412.21,878.20 L415.19,876.41 L418.17,882.41 L421.15,885.70 L424.13,882.60 L427.11,883.65 L430.09,884.84 L433.07,886.24 L436.05,885.73 L437.76,882.44 L439.03,877.37 L442.02,880.71 L445.00,871.51 L447.98,871.15 L450.02,865.69 L450.96,867.75 L453.94,859.72 L456.41,860.72 L456.92,863.25 L459.90,868.36 L461.26,867.34 L462.88,862.93 L465.86,851.85 L466.12,852.86 L468.84,851.95 L471.82,848.13 L472.59,851.21 L474.80,846.83 L477.36,839.84 L477.78,838.22 L480.77,826.69 L482.21,823.91 L483.75,820.44 L486.73,810.69 L488.69,807.78 L489.71,805.34 L492.69,800.37 L493.54,794.75 L495.67,787.38 L498.31,770.56 L498.65,767.94 L501.63,770.14 L504.61,759.13 L506.40,756.08 L507.59,752.55 L510.40,757.74 L510.57,756.45 L513.55,765.25 L515.94,772.21 L516.54,779.00 L519.26,793.10 L519.52,790.65 L522.50,806.29 L525.48,812.45 L525.73,812.54 L528.46,828.33 L528.88,827.01 L531.44,825.57 L534.42,837.51 L535.36,839.84 L537.40,849.77 L540.21,859.27 L540.38,859.95 L543.36,857.35 L546.34,858.90 L546.77,859.27 L549.33,863.54 L552.31,860.92 L553.07,864.03 L555.29,870.00 L557.93,881.82 L558.27,878.58 L561.25,883.60 L562.10,878.71 L564.23,876.22 L566.36,875.82 L567.21,872.57 L570.19,879.58 L573.17,881.31 L576.15,876.96 L579.13,882.27 L582.11,883.14 L585.10,880.57 L587.65,884.50 L588.08,885.70 L591.06,888.35 L594.04,889.17 L597.02,888.94 L600.00,886.70 L600.43,888.64 L602.98,888.18 L605.96,882.59 L608.94,887.07 L611.92,883.48 L613.20,880.37" stroke="#000000" stroke-width="2.4" fill="none" stroke-linejoin="round" clip-path="url(#cc)"/>
<g transform="translate(89.84,956.90) scale(0.9500,1)" fill="#1f1f1f" stroke="#1f1f1f" stroke-width="0.35"><text x="0.000" y="0" font-size="23.4" font-weight="bold">58</text></g>
<g transform="translate(175.07,956.90) scale(0.9500,1)" fill="#1f1f1f" stroke="#1f1f1f" stroke-width="0.35"><text x="0.000" y="0" font-size="23.4" font-weight="bold">59</text></g>
<g transform="translate(260.22,956.90) scale(0.9500,1)" fill="#1f1f1f" stroke="#1f1f1f" stroke-width="0.35"><text x="0.000" y="0" font-size="23.4" font-weight="bold">60</text></g>
<g transform="translate(346.99,956.90) scale(0.9500,1)" fill="#1f1f1f" stroke="#1f1f1f" stroke-width="0.35"><text x="0.000" y="0" font-size="23.4" font-weight="bold">6</text><path transform="translate(13.014,0) scale(0.01143,-0.01143)" stroke-width="30.6" d="M759 0H478V1010Q330 870 130 805V1050Q240 1088 360 1180Q470 1270 520 1409H759Z"/></g>
<g transform="translate(430.54,956.90) scale(0.9500,1)" fill="#1f1f1f" stroke="#1f1f1f" stroke-width="0.35"><text x="0.000" y="0" font-size="23.4" font-weight="bold">62</text></g>
<g transform="translate(515.66,956.90) scale(0.9500,1)" fill="#1f1f1f" stroke="#1f1f1f" stroke-width="0.35"><text x="0.000" y="0" font-size="23.4" font-weight="bold">63</text></g>
<g transform="translate(600.49,956.90) scale(0.9500,1)" fill="#1f1f1f" stroke="#1f1f1f" stroke-width="0.35"><text x="0.000" y="0" font-size="23.4" font-weight="bold">64</text></g>
<g transform="translate(60.98,937.40) scale(0.9700,1)" fill="#1f1f1f" stroke="#1f1f1f" stroke-width="0.35"><text x="0.000" y="0" font-size="23.4" font-weight="bold">0.0</text></g>
<g transform="translate(60.68,834.00) scale(0.9700,1)" fill="#1f1f1f" stroke="#1f1f1f" stroke-width="0.35"><text x="0.000" y="0" font-size="23.4" font-weight="bold">0.5</text></g>
<g transform="translate(60.98,730.60) scale(0.9700,1)" fill="#1f1f1f" stroke="#1f1f1f" stroke-width="0.35"><path transform="translate(0.000,0) scale(0.01143,-0.01143)" stroke-width="30.6" d="M759 0H478V1010Q330 870 130 805V1050Q240 1088 360 1180Q470 1270 520 1409H759Z"/><text x="13.014" y="0" font-size="23.4" font-weight="bold">.0</text></g>
<g transform="translate(60.68,627.20) scale(0.9700,1)" fill="#1f1f1f" stroke="#1f1f1f" stroke-width="0.35"><path transform="translate(0.000,0) scale(0.01143,-0.01143)" stroke-width="30.6" d="M759 0H478V1010Q330 870 130 805V1050Q240 1088 360 1180Q470 1270 520 1409H759Z"/><text x="13.014" y="0" font-size="23.4" font-weight="bold">.5</text></g>
<g transform="translate(60.98,523.80) scale(0.9700,1)" fill="#1f1f1f" stroke="#1f1f1f" stroke-width="0.35"><text x="0.000" y="0" font-size="23.4" font-weight="bold">2.0</text></g>
<g transform="translate(274.51,981.00) scale(1.0359,1)" fill="#1f1f1f" stroke="#1f1f1f" stroke-width="0.35"><text x="0.000" y="0" font-size="22" font-weight="bold">2 Theta (degree)</text></g>
<g transform="translate(22.20,846.96) rotate(-90) scale(1.0153,1)" fill="#1f1f1f" stroke="#1f1f1f" stroke-width="0.35"><text x="0.000" y="0" font-size="23" font-weight="bold">Normalized intensity</text></g>
<g transform="translate(13.58,531.00) scale(0.9949,1)" fill="#1f1f1f" stroke="#1f1f1f" stroke-width="0.35"><text x="0.000" y="0" font-size="34" font-weight="bold">c</text></g>
<path d="M453.8,545.5H500.6" stroke="#000000" stroke-width="2.8" fill="none"/>
<g transform="translate(505.39,552.10) scale(1.03,1)" fill="#1f1f1f" stroke="#1f1f1f" stroke-width="0.6"><path transform="translate(0.000,0) scale(0.00967,-0.00967)" stroke-width="62.1" d="M763 0H583V1098Q518 1038 412 979Q306 920 222 890V1057Q373 1125 486 1221Q599 1318 646 1409H763Z"/><text x="11.012" y="0" font-size="19.8" font-weight="normal">.2 V</text></g>
<path d="M453.8,570H500.6" stroke="#cc2030" stroke-width="3.1" fill="none" stroke-dasharray="12 8"/>
<g transform="translate(505.39,576.60) scale(1.03,1)" fill="#1f1f1f" stroke="#1f1f1f" stroke-width="0.6"><path transform="translate(0.000,0) scale(0.00967,-0.00967)" stroke-width="62.1" d="M763 0H583V1098Q518 1038 412 979Q306 920 222 890V1057Q373 1125 486 1221Q599 1318 646 1409H763Z"/><text x="11.012" y="0" font-size="19.8" font-weight="normal">.3 V</text></g>
<path d="M453.8,594.5H500.6" stroke="#22227e" stroke-width="3.4" fill="none" stroke-dasharray="3 8.6" stroke-dashoffset="9.8"/>
<g transform="translate(505.39,601.10) scale(1.03,1)" fill="#1f1f1f" stroke="#1f1f1f" stroke-width="0.6"><path transform="translate(0.000,0) scale(0.00967,-0.00967)" stroke-width="62.1" d="M763 0H583V1098Q518 1038 412 979Q306 920 222 890V1057Q373 1125 486 1221Q599 1318 646 1409H763Z"/><text x="11.012" y="0" font-size="19.8" font-weight="normal">.4 V</text></g>
<path d="M453.8,618.6H500.6" stroke="#126c64" stroke-width="3.1" fill="none" stroke-dasharray="12 5.5 2.6 5.5"/>
<g transform="translate(505.39,625.20) scale(1.03,1)" fill="#1f1f1f" stroke="#1f1f1f" stroke-width="0.6"><path transform="translate(0.000,0) scale(0.00967,-0.00967)" stroke-width="62.1" d="M763 0H583V1098Q518 1038 412 979Q306 920 222 890V1057Q373 1125 486 1221Q599 1318 646 1409H763Z"/><text x="11.012" y="0" font-size="19.8" font-weight="normal">.5 V</text></g>
<path d="M453.8,643.8H500.6" stroke="#b028b0" stroke-width="3.1" fill="none" stroke-dasharray="10 4.5 2.6 4.5 2.6 5.4"/>
<g transform="translate(505.39,650.40) scale(1.03,1)" fill="#1f1f1f" stroke="#1f1f1f" stroke-width="0.6"><path transform="translate(0.000,0) scale(0.00967,-0.00967)" stroke-width="62.1" d="M763 0H583V1098Q518 1038 412 979Q306 920 222 890V1057Q373 1125 486 1221Q599 1318 646 1409H763Z"/><text x="11.012" y="0" font-size="19.8" font-weight="normal">.6 V</text></g>
<path d="M259.8,639.8V825.7" stroke="#000" stroke-width="2.8"/>
<path d="M254.20000000000002,823.7L265.40000000000003,823.7L259.8,846.7Z" fill="#111"/>
<path d="M558,752V825.7" stroke="#000" stroke-width="2.8"/>
<path d="M552.4,823.7L563.6,823.7L558,846.7Z" fill="#111"/>
<g transform="translate(134.62,620.60) scale(1.0303,1)" fill="#1f1f1f" stroke="#1f1f1f" stroke-width="0.35"><text x="0.000" y="0" font-size="21.5" font-weight="bold">Ni(OH)</text></g>
<g transform="translate(207.92,628.10) scale(0.9081,1)" fill="#1f1f1f" stroke="#1f1f1f" stroke-width="0.35"><text x="0.000" y="0" font-size="21.5" font-weight="bold">2</text></g>
<g transform="translate(226.86,620.60) scale(1.0676,1)" fill="#1f1f1f" stroke="#1f1f1f" stroke-width="0.35"><text x="0.000" y="0" font-size="21.5" font-weight="bold">(</text><path transform="translate(7.160,0) scale(0.01050,-0.01050)" stroke-width="33.3" d="M759 0H478V1010Q330 870 130 805V1050Q240 1088 360 1180Q470 1270 520 1409H759Z"/><path transform="translate(19.117,0) scale(0.01050,-0.01050)" stroke-width="33.3" d="M759 0H478V1010Q330 870 130 805V1050Q240 1088 360 1180Q470 1270 520 1409H759Z"/><text x="31.074" y="0" font-size="21.5" font-weight="bold">0)</text></g>
<g transform="translate(446.63,731.30) scale(1.0204,1)" fill="#1f1f1f" stroke="#1f1f1f" stroke-width="0.35"><text x="0.000" y="0" font-size="21.5" font-weight="bold">Ni(OH)</text></g>
<g transform="translate(519.28,738.10) scale(0.9661,1)" fill="#1f1f1f" stroke="#1f1f1f" stroke-width="0.35"><text x="0.000" y="0" font-size="21.5" font-weight="bold">2</text></g>
<g transform="translate(538.23,731.30) scale(1.0416,1)" fill="#1f1f1f" stroke="#1f1f1f" stroke-width="0.35"><text x="0.000" y="0" font-size="21.5" font-weight="bold">(</text><path transform="translate(7.160,0) scale(0.01050,-0.01050)" stroke-width="33.3" d="M759 0H478V1010Q330 870 130 805V1050Q240 1088 360 1180Q470 1270 520 1409H759Z"/><path transform="translate(19.117,0) scale(0.01050,-0.01050)" stroke-width="33.3" d="M759 0H478V1010Q330 870 130 805V1050Q240 1088 360 1180Q470 1270 520 1409H759Z"/><path transform="translate(31.074,0) scale(0.01050,-0.01050)" stroke-width="33.3" d="M759 0H478V1010Q330 870 130 805V1050Q240 1088 360 1180Q470 1270 520 1409H759Z"/><text x="43.031" y="0" font-size="21.5" font-weight="bold">)</text></g>
<clipPath id="cd"><rect x="739.8" y="517" width="510.79999999999995" height="413.29999999999995"/></clipPath>
<path d="M739.80,930.3v-8M739.80,517v8M824.93,930.3v-8M824.93,517v8M910.07,930.3v-8M910.07,517v8M995.20,930.3v-8M995.20,517v8M1080.33,930.3v-8M1080.33,517v8M1165.47,930.3v-8M1165.47,517v8M1250.60,930.3v-8M1250.60,517v8M782.37,930.3v-4.5M782.37,517v4.5M867.50,930.3v-4.5M867.50,517v4.5M952.63,930.3v-4.5M952.63,517v4.5M1037.77,930.3v-4.5M1037.77,517v4.5M1122.90,930.3v-4.5M1122.90,517v4.5M1208.03,930.3v-4.5M1208.03,517v4.5M739.8,849.34h8M1250.6,849.34h-8M739.8,738.56h8M1250.6,738.56h-8M739.8,627.78h8M1250.6,627.78h-8M739.8,517.00h8M1250.6,517.00h-8M739.8,904.73h4.5M1250.6,904.73h-4.5M739.8,793.95h4.5M1250.6,793.95h-4.5M739.8,683.17h4.5M1250.6,683.17h-4.5M739.8,572.39h4.5M1250.6,572.39h-4.5" stroke="#2a2a2a" stroke-width="2" fill="none"/>
<rect x="739.8" y="517" width="510.80" height="413.30" stroke="#2a2a2a" stroke-width="2" fill="none"/>
<path d="M739.80,849.34 L748.31,865.96 L756.83,854.88 L765.34,849.34 L773.85,860.42 L790.88,849.34 L807.91,854.88 L824.93,849.34 L841.96,846.57 L858.99,854.88 L876.01,849.34 L893.04,860.42 L901.55,849.34 L918.58,838.26 L928.46,820.54 L935.61,821.64 L940.71,838.26 L948.21,831.62 L952.46,822.75 L962.34,800.04 L972.21,778.99 L981.92,746.87 L991.79,723.05 L1012.23,623.90 L1028.23,685.39 L1035.55,723.05 L1039.81,742.44 L1043.90,756.28 L1048.32,778.99 L1053.94,798.94 L1059.56,818.88 L1065.18,832.72 L1080.33,843.80 L1097.36,849.34 L1114.39,854.88 L1122.90,865.96 L1131.41,849.34 L1148.44,854.88 L1165.47,857.65 L1173.98,843.80 L1191.01,849.34 L1208.03,843.80 L1219.95,852.11 L1230.17,863.19 L1242.09,849.34 L1250.60,849.34" stroke="#b028b0" stroke-width="2.7" fill="none" stroke-linejoin="round" stroke-dasharray="10 4.5 2.6 4.5 2.6 5.4" clip-path="url(#cd)"/>
<path d="M739.80,843.80 L748.31,854.88 L760.23,832.72 L773.85,838.26 L787.47,832.72 L799.39,849.34 L813.01,832.72 L824.93,843.80 L841.96,835.49 L858.99,838.26 L872.61,818.88 L884.53,841.03 L901.55,841.03 L918.58,843.80 L935.61,835.49 L952.63,849.34 L962.85,827.18 L970.68,816.11 L981.92,822.75 L990.43,816.11 L996.05,804.47 L998.95,787.86 L1004.56,776.23 L1011.55,776.23 L1018.70,767.92 L1024.32,747.98 L1028.57,733.57 L1031.47,747.98 L1034.19,773.46 L1036.92,797.27 L1041.17,780.66 L1046.96,773.46 L1060.92,810.01 L1068.41,810.57 L1078.63,810.57 L1097.36,826.08 L1109.28,821.64 L1126.31,808.91 L1136.52,816.11 L1148.44,827.18 L1165.47,829.95 L1179.09,835.49 L1192.71,807.80 L1202.93,827.18 L1216.55,816.11 L1233.57,829.95 L1250.60,835.49" stroke="#126c64" stroke-width="2.7" fill="none" stroke-linejoin="round" stroke-dasharray="12 5.5 2.6 5.5" clip-path="url(#cd)"/>
<path d="M739.80,849.34 L748.31,843.80 L756.83,854.88 L765.34,856.20 L773.85,849.34 L782.37,850.37 L790.88,854.88 L799.39,855.27 L807.91,849.34 L816.42,852.44 L824.93,854.88 L833.45,850.59 L841.96,849.34 L850.47,843.97 L858.99,843.80 L867.50,846.99 L876.01,849.34 L884.53,852.12 L893.04,854.88 L901.55,856.37 L910.07,849.34 L918.58,849.94 L927.09,849.34 L935.61,847.70 L944.12,843.80 L952.63,843.45 L961.15,849.34 L969.66,846.15 L978.17,843.80 L986.69,823.60 L995.20,808.51 L996.05,806.14 L1003.71,812.99 L1008.82,812.78 L1012.23,811.62 L1020.74,816.76 L1021.42,819.98 L1029.25,824.94 L1032.66,825.52 L1037.77,822.81 L1043.90,811.67 L1046.28,814.53 L1049.69,818.88 L1054.79,816.83 L1056.50,816.11 L1063.31,832.37 L1065.18,839.92 L1071.82,843.80 L1080.33,847.09 L1088.85,852.11 L1097.36,850.67 L1105.87,849.34 L1114.39,842.40 L1122.90,837.88 L1131.41,830.51 L1139.93,838.94 L1148.44,843.26 L1156.95,843.80 L1165.47,850.96 L1173.98,865.96 L1182.49,859.26 L1191.01,860.38 L1199.52,854.88 L1208.03,849.59 L1216.55,850.99 L1225.06,849.34 L1233.57,849.17 L1242.09,838.80 L1250.60,838.26" stroke="#22227e" stroke-width="3.0" fill="none" stroke-linejoin="round" stroke-dasharray="3 8.6" clip-path="url(#cd)"/>
<path d="M739.80,849.34 L746.61,832.72 L751.72,819.43 L760.23,849.34 L773.85,843.80 L790.88,854.88 L807.91,849.34 L823.23,867.06 L833.45,843.80 L850.47,843.80 L862.39,849.34 L876.01,829.95 L884.53,849.34 L901.55,843.80 L910.07,869.28 L918.58,843.80 L935.61,849.34 L961.15,838.26 L978.17,843.80 L987.71,839.92 L991.79,816.11 L1003.20,834.38 L1015.63,847.12 L1028.57,817.21 L1032.66,823.31 L1046.96,835.49 L1060.92,849.34 L1063.31,843.80 L1080.33,835.49 L1088.85,849.34 L1114.39,843.80 L1131.41,843.80 L1148.44,827.18 L1156.95,849.34 L1173.98,843.80 L1191.01,849.34 L1208.03,854.88 L1225.06,843.80 L1250.60,849.34" stroke="#cc2030" stroke-width="2.7" fill="none" stroke-linejoin="round" stroke-dasharray="12 8" clip-path="url(#cd)"/>
<path d="M739.80,854.33 L744.91,864.85 L755.12,869.28 L765.34,867.06 L773.85,838.82 L780.66,842.14 L789.18,849.34 L797.69,858.76 L807.91,867.06 L816.42,860.42 L824.93,858.76 L831.74,848.23 L840.26,869.28 L855.58,869.28 L867.50,862.63 L876.01,858.76 L884.53,864.85 L893.04,852.66 L899.85,867.06 L910.07,889.77 L918.58,858.76 L927.09,854.33 L935.61,853.22 L942.42,869.83 L959.44,860.97 L969.66,841.03 L978.17,852.11 L986.69,839.92 L995.20,857.09 L1000.31,849.34 L1012.23,854.88 L1022.44,849.34 L1030.96,842.69 L1037.77,841.59 L1046.28,866.51 L1054.79,865.96 L1062.46,853.22 L1071.82,851.00 L1078.63,847.12 L1088.85,864.85 L1097.36,843.80 L1105.87,867.62 L1114.39,879.25 L1122.90,846.02 L1131.41,846.02 L1138.22,845.46 L1146.74,853.22 L1156.95,857.65 L1165.47,863.74 L1173.98,852.66 L1182.49,852.66 L1191.01,869.83 L1199.52,839.92 L1209.74,839.92 L1221.65,839.37 L1231.87,839.37 L1242.09,845.46 L1250.60,847.12" stroke="#000000" stroke-width="2.4" fill="none" stroke-linejoin="round" clip-path="url(#cd)"/>
<g transform="translate(717.92,956.90) scale(0.9500,1)" fill="#1f1f1f" stroke="#1f1f1f" stroke-width="0.35"><path transform="translate(0.000,0) scale(0.01143,-0.01143)" stroke-width="30.6" d="M759 0H478V1010Q330 870 130 805V1050Q240 1088 360 1180Q470 1270 520 1409H759Z"/><path transform="translate(13.014,0) scale(0.01143,-0.01143)" stroke-width="30.6" d="M759 0H478V1010Q330 870 130 805V1050Q240 1088 360 1180Q470 1270 520 1409H759Z"/><text x="26.028" y="0" font-size="23.4" font-weight="bold">.0</text></g>
<g transform="translate(802.90,956.90) scale(0.9500,1)" fill="#1f1f1f" stroke="#1f1f1f" stroke-width="0.35"><path transform="translate(0.000,0) scale(0.01143,-0.01143)" stroke-width="30.6" d="M759 0H478V1010Q330 870 130 805V1050Q240 1088 360 1180Q470 1270 520 1409H759Z"/><path transform="translate(13.014,0) scale(0.01143,-0.01143)" stroke-width="30.6" d="M759 0H478V1010Q330 870 130 805V1050Q240 1088 360 1180Q470 1270 520 1409H759Z"/><text x="26.028" y="0" font-size="23.4" font-weight="bold">.5</text></g>
<g transform="translate(888.18,956.90) scale(0.9500,1)" fill="#1f1f1f" stroke="#1f1f1f" stroke-width="0.35"><path transform="translate(0.000,0) scale(0.01143,-0.01143)" stroke-width="30.6" d="M759 0H478V1010Q330 870 130 805V1050Q240 1088 360 1180Q470 1270 520 1409H759Z"/><text x="13.014" y="0" font-size="23.4" font-weight="bold">2.0</text></g>
<g transform="translate(973.17,956.90) scale(0.9500,1)" fill="#1f1f1f" stroke="#1f1f1f" stroke-width="0.35"><path transform="translate(0.000,0) scale(0.01143,-0.01143)" stroke-width="30.6" d="M759 0H478V1010Q330 870 130 805V1050Q240 1088 360 1180Q470 1270 520 1409H759Z"/><text x="13.014" y="0" font-size="23.4" font-weight="bold">2.5</text></g>
<g transform="translate(1058.45,956.90) scale(0.9500,1)" fill="#1f1f1f" stroke="#1f1f1f" stroke-width="0.35"><path transform="translate(0.000,0) scale(0.01143,-0.01143)" stroke-width="30.6" d="M759 0H478V1010Q330 870 130 805V1050Q240 1088 360 1180Q470 1270 520 1409H759Z"/><text x="13.014" y="0" font-size="23.4" font-weight="bold">3.0</text></g>
<g transform="translate(1143.44,956.90) scale(0.9500,1)" fill="#1f1f1f" stroke="#1f1f1f" stroke-width="0.35"><path transform="translate(0.000,0) scale(0.01143,-0.01143)" stroke-width="30.6" d="M759 0H478V1010Q330 870 130 805V1050Q240 1088 360 1180Q470 1270 520 1409H759Z"/><text x="13.014" y="0" font-size="23.4" font-weight="bold">3.5</text></g>
<g transform="translate(1228.72,956.90) scale(0.9500,1)" fill="#1f1f1f" stroke="#1f1f1f" stroke-width="0.35"><path transform="translate(0.000,0) scale(0.01143,-0.01143)" stroke-width="30.6" d="M759 0H478V1010Q330 870 130 805V1050Q240 1088 360 1180Q470 1270 520 1409H759Z"/><text x="13.014" y="0" font-size="23.4" font-weight="bold">4.0</text></g>
<g transform="translate(698.56,856.34) scale(0.9700,1)" fill="#1f1f1f" stroke="#1f1f1f" stroke-width="0.35"><text x="0.000" y="0" font-size="23.4" font-weight="bold">0.2</text></g>
<g transform="translate(697.77,745.56) scale(0.9700,1)" fill="#1f1f1f" stroke="#1f1f1f" stroke-width="0.35"><text x="0.000" y="0" font-size="23.4" font-weight="bold">0.4</text></g>
<g transform="translate(698.47,634.78) scale(0.9700,1)" fill="#1f1f1f" stroke="#1f1f1f" stroke-width="0.35"><text x="0.000" y="0" font-size="23.4" font-weight="bold">0.6</text></g>
<g transform="translate(698.34,524.00) scale(0.9700,1)" fill="#1f1f1f" stroke="#1f1f1f" stroke-width="0.35"><text x="0.000" y="0" font-size="23.4" font-weight="bold">0.8</text></g>
<g transform="translate(922.01,977.30) scale(1.0412,1)" fill="#1f1f1f" stroke="#1f1f1f" stroke-width="0.35"><text x="0.000" y="0" font-size="22" font-weight="bold">2 Theta (degree)</text></g>
<g transform="translate(660.50,835.76) rotate(-90) scale(1.0131,1)" fill="#1f1f1f" stroke="#1f1f1f" stroke-width="0.35"><text x="0.000" y="0" font-size="23" font-weight="bold">Normalized intensity</text></g>
<g transform="translate(646.87,533.50) scale(0.9572,1)" fill="#1f1f1f" stroke="#1f1f1f" stroke-width="0.35"><text x="0.000" y="0" font-size="34" font-weight="bold">d</text></g>
<path d="M777.2,570.5H822.5" stroke="#000000" stroke-width="2.8" fill="none"/>
<g transform="translate(827.19,577.10) scale(1.03,1)" fill="#1f1f1f" stroke="#1f1f1f" stroke-width="0.6"><path transform="translate(0.000,0) scale(0.00967,-0.00967)" stroke-width="62.1" d="M763 0H583V1098Q518 1038 412 979Q306 920 222 890V1057Q373 1125 486 1221Q599 1318 646 1409H763Z"/><text x="11.012" y="0" font-size="19.8" font-weight="normal">.2 V</text></g>
<path d="M777.2,595H822.5" stroke="#cc2030" stroke-width="3.1" fill="none" stroke-dasharray="12 8"/>
<g transform="translate(827.19,601.60) scale(1.03,1)" fill="#1f1f1f" stroke="#1f1f1f" stroke-width="0.6"><path transform="translate(0.000,0) scale(0.00967,-0.00967)" stroke-width="62.1" d="M763 0H583V1098Q518 1038 412 979Q306 920 222 890V1057Q373 1125 486 1221Q599 1318 646 1409H763Z"/><text x="11.012" y="0" font-size="19.8" font-weight="normal">.3 V</text></g>
<path d="M777.2,619.1H822.5" stroke="#22227e" stroke-width="3.4" fill="none" stroke-dasharray="3 8.6" stroke-dashoffset="9.8"/>
<g transform="translate(827.19,625.70) scale(1.03,1)" fill="#1f1f1f" stroke="#1f1f1f" stroke-width="0.6"><path transform="translate(0.000,0) scale(0.00967,-0.00967)" stroke-width="62.1" d="M763 0H583V1098Q518 1038 412 979Q306 920 222 890V1057Q373 1125 486 1221Q599 1318 646 1409H763Z"/><text x="11.012" y="0" font-size="19.8" font-weight="normal">.4 V</text></g>
<path d="M777.2,644H822.5" stroke="#126c64" stroke-width="3.1" fill="none" stroke-dasharray="12 5.5 2.6 5.5"/>
<g transform="translate(827.19,650.60) scale(1.03,1)" fill="#1f1f1f" stroke="#1f1f1f" stroke-width="0.6"><path transform="translate(0.000,0) scale(0.00967,-0.00967)" stroke-width="62.1" d="M763 0H583V1098Q518 1038 412 979Q306 920 222 890V1057Q373 1125 486 1221Q599 1318 646 1409H763Z"/><text x="11.012" y="0" font-size="19.8" font-weight="normal">.5 V</text></g>
<path d="M777.2,668.7H822.5" stroke="#b028b0" stroke-width="3.1" fill="none" stroke-dasharray="10 4.5 2.6 4.5 2.6 5.4"/>
<g transform="translate(827.19,675.30) scale(1.03,1)" fill="#1f1f1f" stroke="#1f1f1f" stroke-width="0.6"><path transform="translate(0.000,0) scale(0.00967,-0.00967)" stroke-width="62.1" d="M763 0H583V1098Q518 1038 412 979Q306 920 222 890V1057Q373 1125 486 1221Q599 1318 646 1409H763Z"/><text x="11.012" y="0" font-size="19.8" font-weight="normal">.6 V</text></g>
<path d="M1072.7,798.2V654.3" stroke="#000" stroke-width="2.8"/>
<path d="M1067.1000000000001,656.3L1078.3,656.3L1072.7,633.3Z" fill="#111"/>
<g transform="translate(963.17,609.20) scale(1.0230,1)" fill="#1f1f1f" stroke="#1f1f1f" stroke-width="0.35"><text x="0.000" y="0" font-size="22.4" font-weight="bold">NiOOH (003)</text></g>
</svg>
</body></html>
